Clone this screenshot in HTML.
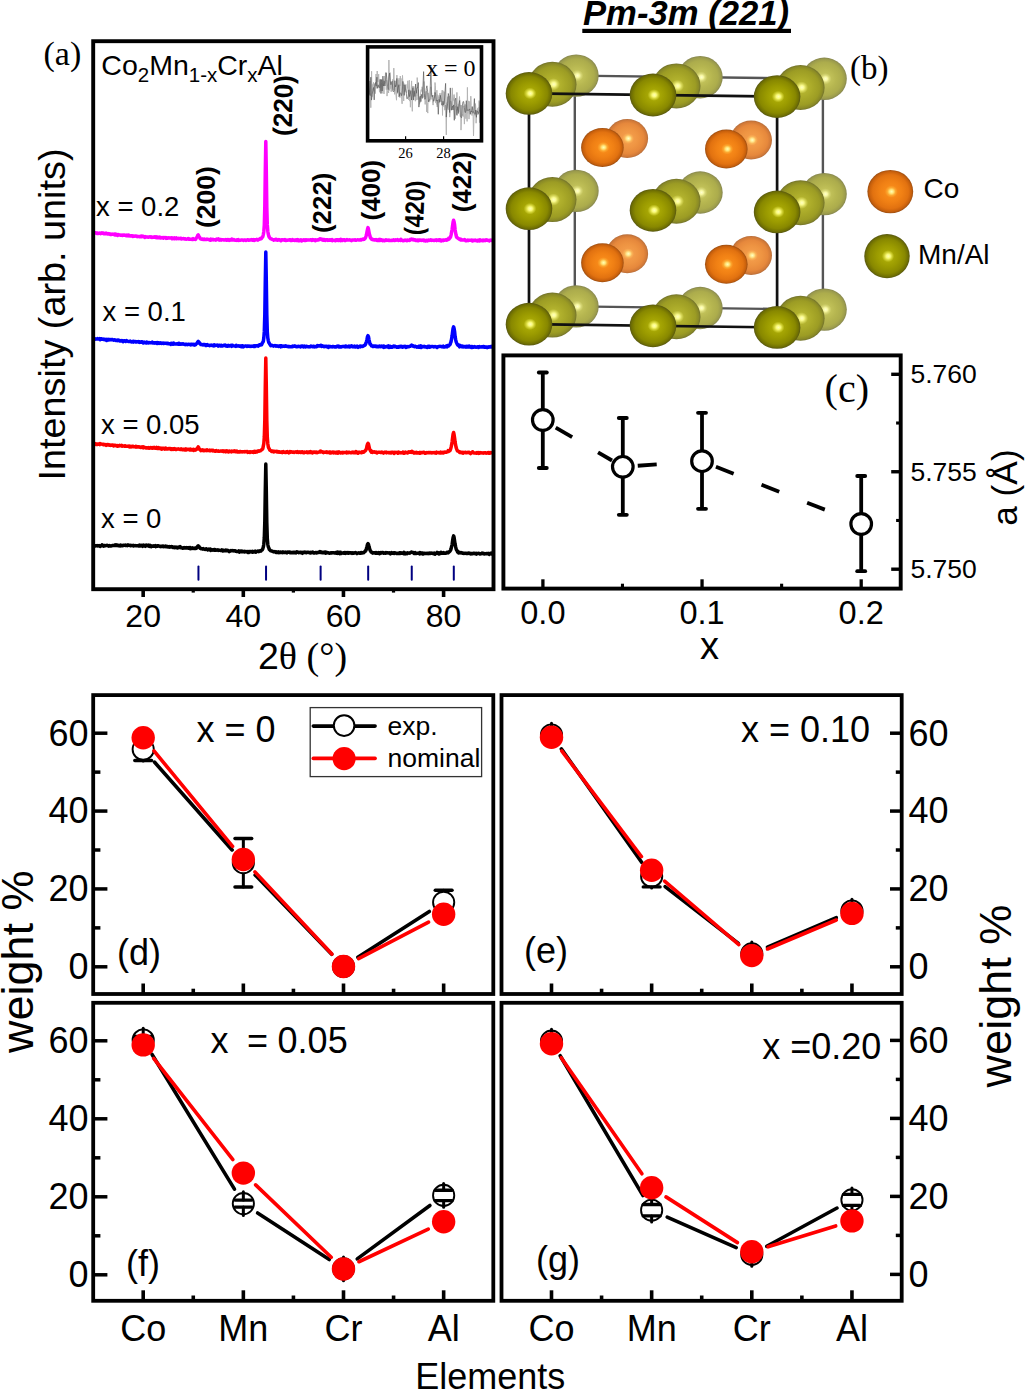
<!DOCTYPE html>
<html><head><meta charset="utf-8"><title>Figure</title>
<style>html,body{margin:0;padding:0;background:#fff;overflow:hidden;}svg{display:block;}</style></head>
<body><svg width="1025" height="1389" viewBox="0 0 1025 1389">
<rect width="1025" height="1389" fill="#fff"/>
<defs>
<radialGradient id="olF" cx="50%" cy="50%" r="50%" fx="53%" fy="50%">
<stop offset="0" stop-color="#ffffb8"/><stop offset="0.09" stop-color="#fafa7c"/><stop offset="0.17" stop-color="#d4d438"/><stop offset="0.27" stop-color="#a6a604"/>
<stop offset="0.5" stop-color="#9a9a00"/><stop offset="0.78" stop-color="#888800"/><stop offset="0.92" stop-color="#707002"/><stop offset="1" stop-color="#585812"/></radialGradient>
<radialGradient id="olM" cx="50%" cy="50%" r="50%" fx="53%" fy="50%">
<stop offset="0" stop-color="#ffffc4"/><stop offset="0.09" stop-color="#fafa90"/><stop offset="0.17" stop-color="#d8d85a"/><stop offset="0.27" stop-color="#b2b22e"/>
<stop offset="0.5" stop-color="#a8a828"/><stop offset="0.78" stop-color="#9c9c24"/><stop offset="0.92" stop-color="#8a8a26"/><stop offset="1" stop-color="#72722c"/></radialGradient>
<radialGradient id="olB" cx="50%" cy="50%" r="50%" fx="53%" fy="50%">
<stop offset="0" stop-color="#ffffd0"/><stop offset="0.09" stop-color="#f8f8a4"/><stop offset="0.17" stop-color="#d8d878"/><stop offset="0.27" stop-color="#c0c058"/>
<stop offset="0.5" stop-color="#b6b650"/><stop offset="0.78" stop-color="#acac4c"/><stop offset="0.92" stop-color="#9c9c4c"/><stop offset="1" stop-color="#868650"/></radialGradient>
<radialGradient id="orF" cx="50%" cy="50%" r="50%" fx="53%" fy="50%">
<stop offset="0" stop-color="#ffffb8"/><stop offset="0.09" stop-color="#ffe478"/><stop offset="0.18" stop-color="#fca830"/><stop offset="0.28" stop-color="#f68818"/>
<stop offset="0.5" stop-color="#f08014"/><stop offset="0.78" stop-color="#e27210"/><stop offset="0.92" stop-color="#c8600c"/><stop offset="1" stop-color="#9c4e12"/></radialGradient>
<radialGradient id="orB" cx="50%" cy="50%" r="50%" fx="53%" fy="50%">
<stop offset="0" stop-color="#ffffc8"/><stop offset="0.09" stop-color="#ffe88e"/><stop offset="0.18" stop-color="#fab458"/><stop offset="0.28" stop-color="#f29a48"/>
<stop offset="0.5" stop-color="#ee9442"/><stop offset="0.78" stop-color="#e6883c"/><stop offset="0.92" stop-color="#d27a38"/><stop offset="1" stop-color="#b66e3c"/></radialGradient>
</defs>
<polyline points="93.1,233.0 93.6,233.1 94.1,232.9 94.6,232.8 95.1,232.9 95.6,232.8 96.1,233.1 96.6,233.5 97.1,233.0 97.6,233.0 98.1,233.4 98.6,233.4 99.1,233.3 99.6,233.0 100.1,233.4 100.6,233.6 101.1,233.0 101.6,233.3 102.1,232.9 102.6,233.2 103.1,233.0 103.6,233.6 104.1,233.3 104.6,233.8 105.1,233.8 105.6,233.7 106.1,233.1 106.6,233.7 107.1,233.9 107.6,234.0 108.1,233.5 108.6,233.9 109.1,233.8 109.6,233.9 110.1,234.5 110.6,234.0 111.1,234.2 111.6,234.5 112.1,234.1 112.6,234.3 113.1,234.4 113.6,234.5 114.1,234.1 114.6,234.5 115.1,235.0 115.6,234.1 116.1,234.9 116.6,234.7 117.1,234.5 117.6,235.4 118.1,235.0 118.6,234.5 119.1,234.9 119.6,235.1 120.1,234.9 120.6,235.2 121.1,235.0 121.6,235.3 122.1,235.5 122.6,235.0 123.1,235.3 123.6,235.1 124.1,235.3 124.6,235.0 125.1,235.2 125.6,235.3 126.1,235.7 126.6,235.8 127.1,235.1 127.6,235.3 128.1,235.8 128.6,235.0 129.2,235.5 129.7,235.7 130.2,236.1 130.7,236.0 131.2,235.7 131.7,235.8 132.2,235.8 132.7,236.4 133.2,235.9 133.7,235.9 134.2,236.2 134.7,236.1 135.2,236.1 135.7,235.9 136.2,236.2 136.7,236.1 137.2,236.7 137.7,236.5 138.2,236.4 138.7,236.6 139.2,236.4 139.7,236.8 140.2,236.5 140.7,236.7 141.2,236.2 141.7,236.7 142.2,236.2 142.7,236.1 143.2,236.6 143.7,236.5 144.2,236.8 144.7,237.5 145.2,236.6 145.7,236.7 146.2,237.0 146.7,237.1 147.2,236.9 147.7,236.9 148.2,237.2 148.7,237.2 149.2,236.8 149.7,237.1 150.2,237.1 150.7,236.8 151.2,237.3 151.7,237.0 152.2,237.5 152.7,237.3 153.2,237.3 153.7,237.1 154.2,237.3 154.7,236.8 155.2,237.0 155.7,237.5 156.2,236.8 156.7,237.7 157.2,237.0 157.7,237.7 158.2,237.3 158.7,237.8 159.2,237.6 159.7,237.1 160.2,238.0 160.7,238.1 161.2,237.7 161.7,237.6 162.2,237.7 162.7,237.5 163.2,238.1 163.7,237.6 164.2,237.8 164.7,237.6 165.2,237.7 165.7,237.5 166.2,238.3 166.7,237.9 167.2,238.3 167.7,238.0 168.2,237.8 168.7,237.9 169.2,237.9 169.7,238.1 170.2,238.0 170.7,238.0 171.2,237.8 171.7,237.9 172.2,238.7 172.7,238.0 173.2,237.9 173.7,238.4 174.2,238.7 174.7,237.9 175.2,238.3 175.7,238.2 176.2,237.9 176.7,238.7 177.2,238.4 177.7,238.5 178.2,238.3 178.7,238.7 179.2,238.4 179.7,238.5 180.2,238.3 180.7,238.3 181.2,239.0 181.7,238.5 182.2,238.8 182.7,238.7 183.2,238.6 183.7,238.6 184.2,239.0 184.7,238.7 185.2,238.8 185.7,238.9 186.2,239.2 186.7,239.1 187.2,239.0 187.7,238.8 188.2,238.5 188.7,239.3 189.2,239.3 189.7,239.0 190.2,239.2 190.7,239.3 191.2,239.3 191.7,239.4 192.2,239.0 192.7,239.5 193.2,238.7 193.7,239.3 194.2,239.2 194.7,239.3 195.2,239.5 195.7,239.2 196.2,238.1 196.7,237.4 197.2,237.1 197.7,235.3 198.2,234.9 198.7,235.9 199.2,236.5 199.7,237.4 200.2,238.7 200.8,239.0 201.3,239.1 201.8,239.2 202.3,239.0 202.8,238.9 203.3,239.4 203.8,239.1 204.3,239.0 204.8,239.6 205.3,239.5 205.8,239.6 206.3,239.2 206.8,239.4 207.3,239.3 207.8,239.3 208.3,239.6 208.8,239.4 209.3,239.7 209.8,239.7 210.3,240.2 210.8,239.2 211.3,239.9 211.8,239.6 212.3,239.7 212.8,239.2 213.3,239.5 213.8,239.9 214.3,239.7 214.8,239.7 215.3,239.6 215.8,240.1 216.3,239.7 216.8,239.1 217.3,239.5 217.8,239.2 218.3,238.8 218.8,239.6 219.3,240.2 219.8,239.8 220.3,239.4 220.8,239.5 221.3,240.1 221.8,239.8 222.3,239.8 222.8,239.8 223.3,239.8 223.8,240.1 224.3,240.0 224.8,239.9 225.3,239.5 225.8,240.0 226.3,239.7 226.8,240.2 227.3,239.5 227.8,239.8 228.3,239.9 228.8,239.5 229.3,240.4 229.8,240.3 230.3,239.8 230.8,240.1 231.3,240.0 231.8,239.1 232.3,240.0 232.8,239.9 233.3,240.0 233.8,239.6 234.3,239.9 234.8,239.9 235.3,240.3 235.8,240.1 236.3,240.0 236.8,240.4 237.3,239.8 237.8,239.9 238.3,239.5 238.8,240.5 239.3,240.3 239.8,240.3 240.3,240.2 240.8,240.1 241.3,240.1 241.8,240.0 242.3,240.0 242.8,240.1 243.3,240.5 243.8,240.2 244.3,240.0 244.8,239.9 245.3,239.9 245.8,240.5 246.3,240.2 246.8,240.1 247.3,239.9 247.8,239.7 248.3,240.0 248.8,240.3 249.3,239.9 249.8,240.0 250.3,240.0 250.8,240.0 251.3,239.5 251.8,239.9 252.3,239.7 252.8,240.2 253.3,239.7 253.8,240.1 254.3,240.4 254.8,239.8 255.3,239.7 255.8,239.9 256.3,239.8 256.8,239.4 257.3,239.8 257.8,240.2 258.3,239.4 258.8,239.4 259.3,239.0 259.8,239.2 260.3,238.6 260.8,238.3 261.3,238.7 261.8,237.6 262.3,237.5 262.8,236.6 263.3,234.6 263.8,231.7 264.3,225.2 264.8,206.8 265.3,170.7 265.8,141.5 266.3,170.9 266.8,207.3 267.3,224.9 267.8,231.2 268.3,234.2 268.8,236.0 269.3,237.3 269.8,237.8 270.3,238.4 270.8,238.8 271.3,238.8 271.8,239.1 272.4,239.4 272.9,239.4 273.4,239.7 273.9,240.2 274.4,239.8 274.9,239.7 275.4,239.3 275.9,239.9 276.4,239.3 276.9,239.5 277.4,240.2 277.9,240.1 278.4,239.9 278.9,239.5 279.4,239.9 279.9,239.8 280.4,240.2 280.9,240.7 281.4,240.1 281.9,239.8 282.4,239.7 282.9,240.0 283.4,240.0 283.9,239.7 284.4,240.1 284.9,239.7 285.4,240.4 285.9,240.4 286.4,240.4 286.9,240.0 287.4,240.3 287.9,240.1 288.4,240.0 288.9,240.0 289.4,239.7 289.9,239.7 290.4,240.4 290.9,240.1 291.4,240.2 291.9,240.4 292.4,239.6 292.9,239.9 293.4,240.2 293.9,240.3 294.4,240.0 294.9,240.5 295.4,240.2 295.9,239.8 296.4,239.9 296.9,240.4 297.4,240.3 297.9,239.6 298.4,240.6 298.9,240.3 299.4,240.6 299.9,240.0 300.4,240.1 300.9,239.8 301.4,240.9 301.9,240.1 302.4,240.6 302.9,240.0 303.4,240.2 303.9,239.7 304.4,240.0 304.9,240.5 305.4,239.8 305.9,240.5 306.4,240.3 306.9,239.8 307.4,240.0 307.9,240.0 308.4,240.1 308.9,240.0 309.4,239.9 309.9,240.1 310.4,239.8 310.9,239.8 311.4,240.1 311.9,240.4 312.4,239.7 312.9,240.1 313.4,239.9 313.9,239.8 314.4,240.4 314.9,240.0 315.4,240.6 315.9,239.9 316.4,240.2 316.9,240.0 317.4,239.8 317.9,240.1 318.4,239.7 318.9,239.8 319.4,239.3 319.9,238.8 320.4,238.9 320.9,239.1 321.4,239.6 321.9,239.3 322.4,239.8 322.9,239.4 323.4,240.2 323.9,239.7 324.4,239.5 324.9,240.1 325.4,240.4 325.9,239.7 326.4,239.8 326.9,239.9 327.4,239.8 327.9,240.3 328.4,239.9 328.9,239.9 329.4,240.3 329.9,239.9 330.4,240.3 330.9,239.9 331.4,239.8 331.9,239.6 332.4,240.7 332.9,240.1 333.4,240.2 333.9,240.2 334.4,240.2 334.9,240.2 335.4,240.7 335.9,239.9 336.4,239.7 336.9,239.9 337.4,239.8 337.9,240.4 338.4,240.4 338.9,239.9 339.4,239.7 339.9,240.1 340.4,240.6 340.9,239.3 341.4,240.3 341.9,239.8 342.4,240.5 342.9,239.8 343.4,240.1 344.0,239.7 344.5,239.9 345.0,240.6 345.5,240.4 346.0,240.0 346.5,239.9 347.0,239.6 347.5,240.0 348.0,240.1 348.5,240.1 349.0,240.1 349.5,239.8 350.0,240.1 350.5,240.1 351.0,240.5 351.5,240.7 352.0,240.1 352.5,239.9 353.0,240.1 353.5,239.9 354.0,239.9 354.5,240.1 355.0,239.8 355.5,240.3 356.0,240.1 356.5,240.2 357.0,240.0 357.5,239.8 358.0,239.8 358.5,240.0 359.0,239.9 359.5,240.1 360.0,240.0 360.5,239.5 361.0,239.9 361.5,239.4 362.0,239.6 362.5,239.6 363.0,239.0 363.5,239.5 364.0,239.3 364.5,238.9 365.0,238.4 365.5,237.7 366.0,236.2 366.5,234.5 367.0,231.8 367.5,229.3 368.0,227.6 368.5,229.3 369.0,232.0 369.5,234.5 370.0,236.4 370.5,237.9 371.0,238.1 371.5,239.1 372.0,239.4 372.5,239.6 373.0,239.7 373.5,239.5 374.0,239.7 374.5,240.1 375.0,240.0 375.5,240.0 376.0,239.5 376.5,240.2 377.0,240.4 377.5,240.4 378.0,240.2 378.5,239.6 379.0,240.4 379.5,240.1 380.0,239.4 380.5,240.3 381.0,239.7 381.5,239.8 382.0,240.0 382.5,240.6 383.0,240.1 383.5,240.3 384.0,240.7 384.5,240.7 385.0,240.2 385.5,240.1 386.0,239.8 386.5,240.0 387.0,240.4 387.5,240.3 388.0,240.3 388.5,240.5 389.0,240.0 389.5,240.2 390.0,240.5 390.5,240.4 391.0,240.6 391.5,240.4 392.0,240.2 392.5,240.4 393.0,240.0 393.5,239.8 394.0,240.4 394.5,240.2 395.0,240.4 395.5,239.8 396.0,240.2 396.5,240.1 397.0,240.0 397.5,239.6 398.0,240.2 398.5,240.5 399.0,240.4 399.5,240.1 400.0,240.3 400.5,240.5 401.0,239.4 401.5,240.2 402.0,240.4 402.5,240.5 403.0,240.8 403.5,240.6 404.0,240.4 404.5,240.3 405.0,240.5 405.5,240.1 406.0,240.2 406.5,240.5 407.0,240.8 407.5,240.1 408.0,240.1 408.5,240.2 409.0,240.4 409.5,239.9 410.0,240.1 410.5,239.2 411.0,239.2 411.5,239.0 412.0,239.5 412.5,239.8 413.0,239.3 413.5,239.6 414.0,240.1 414.5,239.9 415.1,239.7 415.6,240.5 416.1,240.4 416.6,240.4 417.1,240.1 417.6,240.6 418.1,240.2 418.6,240.6 419.1,240.0 419.6,240.0 420.1,240.3 420.6,240.1 421.1,240.5 421.6,240.4 422.1,240.0 422.6,240.3 423.1,240.2 423.6,240.6 424.1,240.1 424.6,240.2 425.1,240.7 425.6,241.0 426.1,240.9 426.6,240.3 427.1,240.4 427.6,240.8 428.1,240.3 428.6,240.0 429.1,240.3 429.6,240.4 430.1,240.0 430.6,239.8 431.1,239.9 431.6,240.5 432.1,240.1 432.6,240.2 433.1,240.3 433.6,240.5 434.1,240.2 434.6,240.4 435.1,240.0 435.6,240.2 436.1,239.9 436.6,240.6 437.1,240.2 437.6,240.0 438.1,240.1 438.6,240.1 439.1,240.4 439.6,239.7 440.1,239.9 440.6,240.1 441.1,240.9 441.6,240.4 442.1,240.1 442.6,240.3 443.1,240.7 443.6,240.0 444.1,239.9 444.6,240.3 445.1,240.0 445.6,240.0 446.1,239.6 446.6,240.2 447.1,240.1 447.6,239.6 448.1,239.5 448.6,238.4 449.1,238.9 449.6,238.2 450.1,237.7 450.6,236.8 451.1,234.9 451.6,232.1 452.1,229.5 452.6,225.4 453.1,222.0 453.6,220.3 454.1,222.0 454.6,224.9 455.1,229.8 455.6,232.7 456.1,235.3 456.6,237.2 457.1,237.6 457.6,237.8 458.1,238.5 458.6,238.7 459.1,239.1 459.6,239.5 460.1,239.0 460.6,239.8 461.1,239.3 461.6,240.0 462.1,239.9 462.6,239.9 463.1,240.0 463.6,239.9 464.1,239.9 464.6,239.6 465.1,240.1 465.6,240.7 466.1,240.8 466.6,240.6 467.1,240.5 467.6,240.1 468.1,240.7 468.6,240.3 469.1,240.3 469.6,240.2 470.1,240.3 470.6,240.2 471.1,240.3 471.6,240.0 472.1,240.2 472.6,241.0 473.1,240.3 473.6,240.3 474.1,240.5 474.6,240.6 475.1,240.0 475.6,240.3 476.1,240.7 476.6,240.5 477.1,240.4 477.6,240.9 478.1,240.2 478.6,240.4 479.1,240.3 479.6,240.9 480.1,239.8 480.6,240.2 481.1,240.3 481.6,240.6 482.1,240.6 482.6,240.8 483.1,240.0 483.6,240.7 484.1,240.3 484.6,240.2 485.1,240.6 485.6,240.2 486.1,239.8 486.7,240.3 487.2,240.0 487.7,240.3 488.2,240.6 488.7,240.5 489.2,240.9 489.7,240.4 490.2,240.0 490.7,240.2 491.2,240.2 491.7,240.1 492.2,240.6 492.7,240.3 493.2,239.9 493.7,240.7" fill="none" stroke="#ff00ff" stroke-width="3.5" stroke-linejoin="round"/>
<polyline points="93.1,338.7 93.6,338.9 94.1,338.8 94.6,339.0 95.1,338.8 95.6,339.2 96.1,339.0 96.6,339.0 97.1,339.1 97.6,338.5 98.1,338.9 98.6,338.9 99.1,339.1 99.6,338.7 100.1,339.6 100.6,339.2 101.1,338.8 101.6,338.7 102.1,339.2 102.6,339.3 103.1,339.1 103.6,339.4 104.1,339.2 104.6,339.6 105.1,339.3 105.6,339.5 106.1,339.9 106.6,340.4 107.1,339.3 107.6,339.5 108.1,339.5 108.6,340.0 109.1,339.4 109.6,339.7 110.1,339.8 110.6,339.6 111.1,339.6 111.6,339.8 112.1,339.4 112.6,339.6 113.1,340.0 113.6,340.2 114.1,340.1 114.6,339.7 115.1,340.1 115.6,340.5 116.1,340.5 116.6,340.3 117.1,340.1 117.6,340.6 118.1,340.3 118.6,340.1 119.1,340.3 119.6,341.0 120.1,340.7 120.6,341.0 121.1,340.5 121.6,341.0 122.1,340.6 122.6,340.7 123.1,341.6 123.6,341.1 124.1,340.7 124.6,340.9 125.1,341.1 125.6,341.4 126.1,340.9 126.6,340.6 127.1,341.0 127.6,341.2 128.1,341.2 128.6,341.6 129.2,341.4 129.7,341.5 130.2,341.0 130.7,341.6 131.2,342.0 131.7,341.7 132.2,341.6 132.7,341.6 133.2,342.1 133.7,341.3 134.2,341.6 134.7,341.8 135.2,341.9 135.7,341.6 136.2,341.9 136.7,341.7 137.2,341.9 137.7,341.8 138.2,341.6 138.7,341.9 139.2,342.3 139.7,341.7 140.2,342.0 140.7,342.3 141.2,341.8 141.7,342.2 142.2,341.9 142.7,342.6 143.2,342.9 143.7,342.9 144.2,342.2 144.7,342.6 145.2,342.4 145.7,342.4 146.2,342.9 146.7,342.0 147.2,342.8 147.7,342.5 148.2,342.9 148.7,342.6 149.2,342.4 149.7,342.7 150.2,342.8 150.7,342.7 151.2,342.8 151.7,342.5 152.2,342.1 152.7,343.0 153.2,343.0 153.7,342.8 154.2,342.8 154.7,343.1 155.2,342.7 155.7,342.7 156.2,342.9 156.7,343.3 157.2,342.5 157.7,343.3 158.2,342.8 158.7,342.7 159.2,343.4 159.7,343.0 160.2,342.7 160.7,343.0 161.2,343.4 161.7,343.5 162.2,343.1 162.7,343.3 163.2,343.5 163.7,343.1 164.2,343.4 164.7,343.3 165.2,343.2 165.7,343.2 166.2,343.4 166.7,343.4 167.2,343.3 167.7,343.3 168.2,343.8 168.7,343.6 169.2,343.8 169.7,343.9 170.2,343.7 170.7,344.3 171.2,343.4 171.7,343.9 172.2,343.6 172.7,344.2 173.2,344.2 173.7,343.1 174.2,343.5 174.7,344.0 175.2,344.0 175.7,344.0 176.2,343.8 176.7,344.0 177.2,344.1 177.7,343.9 178.2,344.2 178.7,343.3 179.2,344.2 179.7,343.7 180.2,344.3 180.7,344.0 181.2,343.8 181.7,344.2 182.2,343.9 182.7,343.9 183.2,343.7 183.7,344.2 184.2,344.4 184.7,344.5 185.2,344.2 185.7,344.6 186.2,344.3 186.7,344.3 187.2,344.5 187.7,344.7 188.2,344.3 188.7,344.3 189.2,344.4 189.7,344.5 190.2,344.2 190.7,344.8 191.2,344.4 191.7,344.7 192.2,344.3 192.7,344.6 193.2,344.7 193.7,344.4 194.2,345.1 194.7,344.6 195.2,345.0 195.7,344.6 196.2,343.9 196.7,343.5 197.2,343.0 197.7,341.9 198.2,341.4 198.7,341.8 199.2,342.4 199.7,343.7 200.2,343.6 200.8,344.6 201.3,344.5 201.8,344.5 202.3,344.8 202.8,345.0 203.3,344.5 203.8,344.4 204.3,344.7 204.8,344.4 205.3,344.7 205.8,345.5 206.3,344.8 206.8,345.3 207.3,344.7 207.8,345.2 208.3,345.1 208.8,345.2 209.3,345.4 209.8,345.7 210.3,345.3 210.8,345.3 211.3,345.0 211.8,345.4 212.3,345.2 212.8,345.6 213.3,345.3 213.8,345.9 214.3,344.8 214.8,345.3 215.3,345.6 215.8,345.3 216.3,345.2 216.8,345.3 217.3,345.0 217.8,345.5 218.3,346.2 218.8,345.8 219.3,345.2 219.8,345.3 220.3,345.4 220.8,345.9 221.3,345.3 221.8,345.4 222.3,345.9 222.8,345.9 223.3,345.5 223.8,345.3 224.3,345.2 224.8,345.5 225.3,345.0 225.8,345.9 226.3,345.5 226.8,345.9 227.3,346.3 227.8,346.1 228.3,345.4 228.8,346.0 229.3,346.1 229.8,345.6 230.3,345.5 230.8,345.8 231.3,345.4 231.8,346.3 232.3,345.2 232.8,345.6 233.3,345.8 233.8,345.9 234.3,346.0 234.8,346.0 235.3,345.9 235.8,346.3 236.3,345.4 236.8,346.0 237.3,345.8 237.8,346.1 238.3,346.1 238.8,345.8 239.3,345.9 239.8,346.3 240.3,346.2 240.8,345.9 241.3,346.7 241.8,346.8 242.3,345.7 242.8,346.2 243.3,346.9 243.8,346.4 244.3,346.2 244.8,346.1 245.3,346.0 245.8,346.1 246.3,346.0 246.8,346.4 247.3,346.1 247.8,346.1 248.3,345.9 248.8,346.2 249.3,346.0 249.8,346.2 250.3,346.5 250.8,346.3 251.3,346.4 251.8,346.3 252.3,346.2 252.8,346.1 253.3,346.1 253.8,346.4 254.3,345.8 254.8,346.5 255.3,346.1 255.8,345.8 256.3,345.9 256.8,345.8 257.3,346.0 257.8,345.6 258.3,346.1 258.8,345.4 259.3,344.9 259.8,345.2 260.3,344.6 260.8,345.0 261.3,344.9 261.8,344.4 262.3,343.1 262.8,342.3 263.3,341.5 263.8,338.1 264.3,331.4 264.8,314.6 265.3,280.4 265.8,252.1 266.3,279.7 266.8,314.4 267.3,331.6 267.8,337.9 268.3,340.6 268.8,342.6 269.3,343.2 269.8,344.2 270.3,344.7 270.8,345.7 271.3,345.0 271.8,345.4 272.4,345.5 272.9,345.8 273.4,346.1 273.9,345.7 274.4,345.7 274.9,345.5 275.4,345.8 275.9,346.2 276.4,346.1 276.9,345.8 277.4,346.1 277.9,346.2 278.4,346.4 278.9,346.1 279.4,346.2 279.9,345.7 280.4,345.9 280.9,346.8 281.4,345.7 281.9,346.2 282.4,346.4 282.9,346.2 283.4,346.1 283.9,346.3 284.4,346.4 284.9,346.3 285.4,345.8 285.9,346.3 286.4,346.1 286.9,346.2 287.4,346.5 287.9,346.6 288.4,346.7 288.9,346.3 289.4,346.7 289.9,346.8 290.4,346.8 290.9,346.8 291.4,346.4 291.9,346.4 292.4,346.7 292.9,346.0 293.4,346.5 293.9,346.3 294.4,346.3 294.9,345.9 295.4,346.2 295.9,346.4 296.4,346.7 296.9,346.8 297.4,346.4 297.9,346.4 298.4,346.2 298.9,346.6 299.4,346.4 299.9,346.6 300.4,347.0 300.9,346.5 301.4,346.0 301.9,346.2 302.4,346.0 302.9,346.1 303.4,346.9 303.9,346.5 304.4,346.0 304.9,346.7 305.4,346.9 305.9,346.4 306.4,346.3 306.9,346.4 307.4,346.6 307.9,346.7 308.4,346.8 308.9,346.9 309.4,346.8 309.9,346.9 310.4,346.7 310.9,346.0 311.4,346.4 311.9,346.6 312.4,346.4 312.9,346.8 313.4,346.4 313.9,346.2 314.4,346.9 314.9,346.7 315.4,346.5 315.9,346.7 316.4,346.8 316.9,346.5 317.4,345.6 317.9,346.1 318.4,346.0 318.9,345.7 319.4,345.9 319.9,346.0 320.4,345.4 320.9,345.3 321.4,346.4 321.9,345.9 322.4,345.8 322.9,346.4 323.4,346.5 323.9,346.2 324.4,346.7 324.9,346.3 325.4,346.2 325.9,346.5 326.4,346.7 326.9,346.3 327.4,346.6 327.9,346.5 328.4,347.4 328.9,346.3 329.4,346.9 329.9,346.5 330.4,346.5 330.9,346.8 331.4,346.8 331.9,346.9 332.4,346.6 332.9,346.4 333.4,346.4 333.9,346.7 334.4,346.7 334.9,347.0 335.4,346.7 335.9,346.9 336.4,347.0 336.9,346.6 337.4,346.1 337.9,346.2 338.4,346.1 338.9,347.0 339.4,346.3 339.9,346.9 340.4,346.7 340.9,347.1 341.4,346.9 341.9,346.5 342.4,346.5 342.9,346.6 343.4,346.6 344.0,346.4 344.5,346.6 345.0,347.0 345.5,346.1 346.0,346.6 346.5,346.3 347.0,346.6 347.5,346.8 348.0,346.5 348.5,346.8 349.0,346.1 349.5,346.9 350.0,346.4 350.5,346.7 351.0,346.6 351.5,345.8 352.0,346.3 352.5,346.6 353.0,347.0 353.5,346.6 354.0,346.6 354.5,346.1 355.0,347.0 355.5,347.1 356.0,346.5 356.5,346.4 357.0,346.0 357.5,346.8 358.0,347.3 358.5,346.7 359.0,346.8 359.5,346.6 360.0,346.1 360.5,346.8 361.0,346.0 361.5,346.2 362.0,346.3 362.5,346.5 363.0,346.2 363.5,346.1 364.0,345.6 364.5,345.2 365.0,345.2 365.5,344.3 366.0,343.0 366.5,341.4 367.0,339.4 367.5,336.6 368.0,335.7 368.5,336.7 369.0,339.6 369.5,341.9 370.0,344.0 370.5,344.1 371.0,345.0 371.5,345.9 372.0,345.8 372.5,345.9 373.0,346.6 373.5,346.1 374.0,345.9 374.5,345.9 375.0,346.5 375.5,346.5 376.0,346.0 376.5,346.2 377.0,346.7 377.5,346.7 378.0,346.3 378.5,346.7 379.0,346.7 379.5,346.0 380.0,346.5 380.5,346.7 381.0,346.4 381.5,346.0 382.0,346.5 382.5,346.8 383.0,347.1 383.5,346.0 384.0,347.4 384.5,346.3 385.0,346.9 385.5,347.0 386.0,346.9 386.5,346.7 387.0,346.3 387.5,346.9 388.0,346.5 388.5,345.9 389.0,347.5 389.5,346.9 390.0,347.2 390.5,346.4 391.0,347.1 391.5,347.2 392.0,347.2 392.5,346.7 393.0,346.3 393.5,346.6 394.0,346.0 394.5,346.2 395.0,346.7 395.5,346.4 396.0,346.7 396.5,346.7 397.0,347.3 397.5,347.1 398.0,346.7 398.5,347.1 399.0,346.5 399.5,346.6 400.0,347.0 400.5,346.3 401.0,346.6 401.5,346.3 402.0,346.7 402.5,347.2 403.0,346.5 403.5,346.8 404.0,346.4 404.5,346.4 405.0,346.3 405.5,347.1 406.0,347.4 406.5,346.8 407.0,346.5 407.5,346.9 408.0,346.5 408.5,346.8 409.0,346.6 409.5,346.5 410.0,346.4 410.5,345.9 411.0,345.7 411.5,345.2 412.0,345.7 412.5,345.6 413.0,346.2 413.5,346.1 414.0,346.6 414.5,346.7 415.1,346.2 415.6,346.4 416.1,346.4 416.6,346.9 417.1,347.2 417.6,347.0 418.1,346.6 418.6,347.2 419.1,346.3 419.6,347.2 420.1,346.5 420.6,345.9 421.1,347.5 421.6,347.2 422.1,346.4 422.6,346.8 423.1,346.7 423.6,346.8 424.1,346.3 424.6,346.6 425.1,346.9 425.6,346.8 426.1,347.1 426.6,346.8 427.1,347.5 427.6,346.5 428.1,346.8 428.6,346.2 429.1,346.4 429.6,347.2 430.1,346.5 430.6,346.9 431.1,346.7 431.6,346.4 432.1,346.6 432.6,346.6 433.1,346.6 433.6,347.0 434.1,346.9 434.6,346.6 435.1,346.5 435.6,346.8 436.1,346.7 436.6,347.0 437.1,347.5 437.6,346.9 438.1,346.7 438.6,346.6 439.1,346.4 439.6,346.4 440.1,346.3 440.6,346.5 441.1,346.5 441.6,346.8 442.1,346.5 442.6,346.5 443.1,346.2 443.6,347.0 444.1,346.6 444.6,346.9 445.1,346.6 445.6,346.7 446.1,346.1 446.6,346.3 447.1,346.8 447.6,345.5 448.1,346.1 448.6,346.0 449.1,345.3 449.6,345.0 450.1,344.4 450.6,342.8 451.1,341.5 451.6,338.7 452.1,335.6 452.6,331.7 453.1,328.3 453.6,326.8 454.1,328.5 454.6,331.5 455.1,336.4 455.6,339.4 456.1,341.6 456.6,342.9 457.1,344.0 457.6,344.9 458.1,345.3 458.6,345.0 459.1,346.0 459.6,346.8 460.1,345.5 460.6,346.5 461.1,346.4 461.6,346.3 462.1,346.8 462.6,346.1 463.1,346.6 463.6,347.0 464.1,346.5 464.6,346.5 465.1,346.7 465.6,346.5 466.1,347.2 466.6,346.4 467.1,347.0 467.6,346.3 468.1,347.0 468.6,346.7 469.1,346.0 469.6,346.8 470.1,346.5 470.6,346.7 471.1,347.3 471.6,346.5 472.1,346.5 472.6,347.3 473.1,346.9 473.6,347.3 474.1,347.0 474.6,346.6 475.1,346.8 475.6,347.2 476.1,347.2 476.6,346.9 477.1,346.9 477.6,346.9 478.1,346.7 478.6,347.5 479.1,346.9 479.6,346.6 480.1,346.8 480.6,347.1 481.1,347.1 481.6,346.9 482.1,346.7 482.6,346.9 483.1,346.4 483.6,346.5 484.1,347.2 484.6,346.8 485.1,347.1 485.6,347.3 486.1,347.1 486.7,347.0 487.2,347.6 487.7,347.2 488.2,346.8 488.7,347.2 489.2,347.1 489.7,346.7 490.2,347.0 490.7,346.9 491.2,346.4 491.7,346.9 492.2,346.9 492.7,346.8 493.2,346.5 493.7,346.9" fill="none" stroke="#0000ff" stroke-width="3.5" stroke-linejoin="round"/>
<polyline points="93.1,443.9 93.6,444.0 94.1,443.6 94.6,444.2 95.1,443.6 95.6,444.0 96.1,444.5 96.6,443.9 97.1,444.0 97.6,444.5 98.1,444.1 98.6,444.1 99.1,444.3 99.6,444.6 100.1,443.6 100.6,444.1 101.1,444.1 101.6,444.1 102.1,444.2 102.6,444.2 103.1,444.6 103.6,444.3 104.1,444.6 104.6,444.8 105.1,444.5 105.6,444.8 106.1,445.3 106.6,444.9 107.1,444.6 107.6,444.9 108.1,444.6 108.6,445.0 109.1,445.2 109.6,444.8 110.1,445.0 110.6,445.4 111.1,445.0 111.6,445.2 112.1,444.9 112.6,445.0 113.1,445.1 113.6,446.0 114.1,445.2 114.6,445.2 115.1,445.3 115.6,445.4 116.1,445.7 116.6,445.6 117.1,446.2 117.6,445.7 118.1,446.1 118.6,445.8 119.1,445.9 119.6,445.3 120.1,445.8 120.6,445.8 121.1,445.8 121.6,445.3 122.1,446.2 122.6,445.9 123.1,445.9 123.6,446.0 124.1,446.0 124.6,446.3 125.1,445.8 125.6,445.9 126.1,446.3 126.6,446.3 127.1,446.2 127.6,446.2 128.1,446.1 128.6,446.4 129.2,446.8 129.7,446.2 130.2,447.0 130.7,446.8 131.2,446.5 131.7,446.9 132.2,446.2 132.7,446.2 133.2,446.4 133.7,446.7 134.2,446.7 134.7,446.7 135.2,446.9 135.7,446.3 136.2,447.1 136.7,446.6 137.2,446.9 137.7,447.0 138.2,446.8 138.7,446.7 139.2,446.9 139.7,447.2 140.2,447.4 140.7,447.5 141.2,447.0 141.7,447.1 142.2,447.1 142.7,447.6 143.2,446.8 143.7,447.8 144.2,447.4 144.7,447.3 145.2,447.7 145.7,447.9 146.2,447.7 146.7,448.0 147.2,447.7 147.7,448.1 148.2,448.1 148.7,447.7 149.2,448.2 149.7,447.9 150.2,447.9 150.7,447.6 151.2,447.8 151.7,448.1 152.2,447.5 152.7,448.2 153.2,448.1 153.7,448.1 154.2,447.4 154.7,448.0 155.2,448.3 155.7,447.9 156.2,448.2 156.7,447.4 157.2,448.4 157.7,448.0 158.2,448.5 158.7,447.7 159.2,448.5 159.7,448.2 160.2,448.6 160.7,448.1 161.2,448.2 161.7,449.1 162.2,448.2 162.7,448.2 163.2,448.4 163.7,448.2 164.2,448.9 164.7,449.1 165.2,448.4 165.7,448.1 166.2,449.0 166.7,449.0 167.2,448.9 167.7,449.0 168.2,448.5 168.7,448.7 169.2,448.4 169.7,448.4 170.2,449.1 170.7,448.6 171.2,449.5 171.7,448.9 172.2,448.7 172.7,449.2 173.2,449.5 173.7,449.1 174.2,448.6 174.7,449.1 175.2,449.5 175.7,448.9 176.2,448.9 176.7,449.4 177.2,449.2 177.7,448.9 178.2,449.1 178.7,449.0 179.2,449.3 179.7,449.3 180.2,449.6 180.7,449.5 181.2,448.9 181.7,449.5 182.2,449.7 182.7,449.6 183.2,449.8 183.7,449.3 184.2,449.2 184.7,449.8 185.2,449.2 185.7,448.9 186.2,449.9 186.7,449.4 187.2,449.5 187.7,449.2 188.2,449.3 188.7,449.4 189.2,449.6 189.7,449.9 190.2,449.1 190.7,450.0 191.2,449.4 191.7,449.5 192.2,450.0 192.7,449.8 193.2,449.4 193.7,450.4 194.2,449.6 194.7,449.9 195.2,449.8 195.7,450.1 196.2,449.4 196.7,449.4 197.2,448.2 197.7,448.0 198.2,446.9 198.7,447.6 199.2,449.1 199.7,449.3 200.2,449.7 200.8,450.6 201.3,450.1 201.8,449.9 202.3,450.4 202.8,449.9 203.3,450.6 203.8,450.7 204.3,450.2 204.8,450.2 205.3,450.4 205.8,450.4 206.3,450.1 206.8,450.6 207.3,449.9 207.8,450.4 208.3,450.4 208.8,450.5 209.3,450.7 209.8,450.2 210.3,450.8 210.8,450.6 211.3,450.4 211.8,450.2 212.3,450.3 212.8,450.8 213.3,450.4 213.8,450.8 214.3,451.1 214.8,451.1 215.3,451.3 215.8,450.7 216.3,450.5 216.8,451.1 217.3,451.0 217.8,451.2 218.3,450.9 218.8,451.3 219.3,451.2 219.8,451.2 220.3,451.1 220.8,451.1 221.3,451.1 221.8,451.1 222.3,451.3 222.8,450.9 223.3,451.6 223.8,451.1 224.3,451.4 224.8,451.1 225.3,451.1 225.8,451.8 226.3,451.1 226.8,450.8 227.3,451.0 227.8,451.1 228.3,451.9 228.8,451.3 229.3,451.6 229.8,451.0 230.3,451.4 230.8,451.5 231.3,451.9 231.8,451.2 232.3,451.6 232.8,451.5 233.3,451.1 233.8,451.4 234.3,451.4 234.8,450.8 235.3,451.7 235.8,451.7 236.3,451.4 236.8,451.1 237.3,452.0 237.8,451.7 238.3,451.9 238.8,452.0 239.3,451.5 239.8,451.9 240.3,451.6 240.8,451.6 241.3,451.7 241.8,451.7 242.3,452.0 242.8,451.8 243.3,451.7 243.8,451.7 244.3,451.9 244.8,451.5 245.3,451.6 245.8,451.8 246.3,451.6 246.8,451.8 247.3,451.6 247.8,452.4 248.3,452.2 248.8,452.0 249.3,451.8 249.8,452.5 250.3,451.9 250.8,451.8 251.3,451.9 251.8,451.9 252.3,452.2 252.8,451.8 253.3,452.4 253.8,451.5 254.3,452.0 254.8,451.4 255.3,452.2 255.8,451.6 256.3,451.6 256.8,451.9 257.3,451.9 257.8,451.1 258.3,451.3 258.8,450.9 259.3,451.2 259.8,451.0 260.3,450.8 260.8,450.4 261.3,450.2 261.8,449.6 262.3,449.3 262.8,448.7 263.3,446.1 263.8,443.7 264.3,437.0 264.8,420.3 265.3,385.5 265.8,358.0 266.3,385.5 266.8,420.4 267.3,437.2 267.8,443.7 268.3,446.8 268.8,448.2 269.3,448.8 269.8,450.1 270.3,450.4 270.8,450.6 271.3,451.2 271.8,451.5 272.4,450.9 272.9,451.1 273.4,451.9 273.9,452.0 274.4,451.4 274.9,451.3 275.4,451.5 275.9,451.6 276.4,451.3 276.9,451.9 277.4,451.5 277.9,451.5 278.4,452.2 278.9,451.7 279.4,451.9 279.9,452.2 280.4,452.2 280.9,451.9 281.4,452.0 281.9,451.8 282.4,452.6 282.9,452.2 283.4,451.7 283.9,452.1 284.4,452.3 284.9,452.2 285.4,452.6 285.9,452.5 286.4,451.9 286.9,452.1 287.4,451.7 287.9,452.2 288.4,452.2 288.9,452.9 289.4,452.2 289.9,451.5 290.4,452.0 290.9,452.2 291.4,451.8 291.9,451.9 292.4,452.1 292.9,452.3 293.4,452.1 293.9,451.9 294.4,452.4 294.9,452.0 295.4,452.0 295.9,451.8 296.4,452.0 296.9,452.4 297.4,451.7 297.9,452.2 298.4,452.4 298.9,452.1 299.4,452.3 299.9,451.9 300.4,452.6 300.9,452.6 301.4,452.3 301.9,451.7 302.4,451.9 302.9,452.5 303.4,452.8 303.9,452.3 304.4,452.6 304.9,452.1 305.4,452.2 305.9,452.3 306.4,452.4 306.9,451.8 307.4,452.6 307.9,452.7 308.4,451.9 308.9,451.9 309.4,452.4 309.9,452.1 310.4,451.6 310.9,452.5 311.4,452.3 311.9,452.1 312.4,452.9 312.9,452.3 313.4,452.1 313.9,452.3 314.4,452.0 314.9,452.1 315.4,452.4 315.9,452.1 316.4,452.1 316.9,452.7 317.4,452.4 317.9,452.4 318.4,452.2 318.9,452.0 319.4,452.1 319.9,451.4 320.4,451.9 320.9,451.2 321.4,451.6 321.9,451.5 322.4,451.9 322.9,452.3 323.4,452.7 323.9,452.1 324.4,452.3 324.9,452.2 325.4,452.1 325.9,452.0 326.4,452.4 326.9,451.8 327.4,452.4 327.9,452.4 328.4,452.2 328.9,452.1 329.4,452.0 329.9,453.0 330.4,452.0 330.9,452.9 331.4,452.6 331.9,452.3 332.4,452.1 332.9,452.7 333.4,452.9 333.9,452.1 334.4,452.3 334.9,452.7 335.4,452.5 335.9,453.0 336.4,452.3 336.9,452.6 337.4,452.1 337.9,453.1 338.4,452.2 338.9,451.8 339.4,452.4 339.9,452.4 340.4,453.0 340.9,452.4 341.4,452.5 341.9,452.6 342.4,452.9 342.9,452.4 343.4,452.8 344.0,452.6 344.5,452.4 345.0,452.5 345.5,452.5 346.0,452.2 346.5,452.8 347.0,452.1 347.5,452.8 348.0,452.8 348.5,452.4 349.0,452.2 349.5,452.4 350.0,452.6 350.5,452.7 351.0,452.6 351.5,452.8 352.0,452.3 352.5,452.5 353.0,452.0 353.5,452.7 354.0,452.5 354.5,452.3 355.0,452.8 355.5,452.7 356.0,451.6 356.5,452.4 357.0,452.0 357.5,452.7 358.0,453.2 358.5,452.2 359.0,452.4 359.5,452.3 360.0,452.5 360.5,452.5 361.0,452.7 361.5,452.0 362.0,452.7 362.5,451.9 363.0,452.2 363.5,452.3 364.0,452.0 364.5,451.3 365.0,451.0 365.5,450.5 366.0,449.7 366.5,448.5 367.0,445.8 367.5,444.2 368.0,443.3 368.5,444.2 369.0,446.3 369.5,448.6 370.0,449.8 370.5,450.9 371.0,451.4 371.5,452.2 372.0,451.3 372.5,452.4 373.0,452.0 373.5,452.1 374.0,452.0 374.5,451.7 375.0,452.2 375.5,452.2 376.0,452.5 376.5,452.0 377.0,452.9 377.5,452.5 378.0,452.4 378.5,452.3 379.0,452.3 379.5,452.2 380.0,452.4 380.5,452.5 381.0,452.5 381.5,452.1 382.0,452.5 382.5,452.3 383.0,452.6 383.5,453.1 384.0,452.8 384.5,452.5 385.0,452.1 385.5,452.2 386.0,452.1 386.5,452.8 387.0,452.4 387.5,452.6 388.0,452.4 388.5,452.6 389.0,453.0 389.5,452.4 390.0,452.5 390.5,452.4 391.0,452.9 391.5,452.3 392.0,452.3 392.5,452.2 393.0,452.2 393.5,452.8 394.0,453.4 394.5,452.3 395.0,452.9 395.5,452.7 396.0,452.3 396.5,452.6 397.0,452.6 397.5,452.4 398.0,453.2 398.5,452.1 399.0,452.8 399.5,452.7 400.0,452.5 400.5,452.7 401.0,452.9 401.5,452.7 402.0,452.8 402.5,452.9 403.0,452.0 403.5,453.1 404.0,453.3 404.5,452.9 405.0,452.9 405.5,452.2 406.0,452.6 406.5,452.4 407.0,452.4 407.5,452.9 408.0,452.3 408.5,452.5 409.0,451.9 409.5,452.3 410.0,452.2 410.5,451.8 411.0,451.6 411.5,452.3 412.0,451.4 412.5,451.7 413.0,452.0 413.5,452.7 414.0,453.1 414.5,452.6 415.1,452.4 415.6,452.5 416.1,453.0 416.6,452.4 417.1,453.1 417.6,453.1 418.1,452.7 418.6,452.9 419.1,452.9 419.6,453.2 420.1,452.4 420.6,453.1 421.1,452.6 421.6,452.5 422.1,452.7 422.6,452.6 423.1,452.4 423.6,452.2 424.1,452.4 424.6,453.1 425.1,453.3 425.6,452.9 426.1,453.1 426.6,452.6 427.1,452.7 427.6,452.8 428.1,452.4 428.6,452.4 429.1,452.7 429.6,452.6 430.1,452.4 430.6,452.8 431.1,452.6 431.6,453.0 432.1,452.7 432.6,452.6 433.1,452.7 433.6,452.6 434.1,452.5 434.6,452.6 435.1,452.9 435.6,452.9 436.1,453.1 436.6,452.2 437.1,452.5 437.6,452.5 438.1,452.7 438.6,452.5 439.1,452.5 439.6,452.9 440.1,452.7 440.6,452.2 441.1,453.0 441.6,452.9 442.1,452.4 442.6,452.8 443.1,452.3 443.6,452.8 444.1,452.4 444.6,452.1 445.1,452.2 445.6,452.0 446.1,452.2 446.6,452.2 447.1,452.0 447.6,451.7 448.1,450.6 448.6,451.5 449.1,450.6 449.6,450.8 450.1,450.4 450.6,449.1 451.1,447.2 451.6,444.9 452.1,441.7 452.6,437.7 453.1,434.1 453.6,432.5 454.1,434.7 454.6,437.9 455.1,442.1 455.6,444.9 456.1,447.4 456.6,448.9 457.1,450.2 457.6,451.0 458.1,451.2 458.6,451.3 459.1,451.5 459.6,452.4 460.1,451.9 460.6,452.1 461.1,452.7 461.6,452.6 462.1,452.5 462.6,452.3 463.1,453.2 463.6,452.6 464.1,452.7 464.6,452.5 465.1,452.2 465.6,452.2 466.1,452.8 466.6,452.8 467.1,452.6 467.6,452.4 468.1,452.3 468.6,452.6 469.1,452.3 469.6,453.0 470.1,453.1 470.6,453.6 471.1,453.1 471.6,452.6 472.1,452.6 472.6,451.8 473.1,452.7 473.6,452.8 474.1,453.1 474.6,453.0 475.1,453.0 475.6,452.9 476.1,453.1 476.6,453.3 477.1,452.6 477.6,452.7 478.1,452.5 478.6,453.4 479.1,453.3 479.6,453.1 480.1,452.5 480.6,453.0 481.1,452.8 481.6,452.9 482.1,452.9 482.6,453.1 483.1,452.8 483.6,453.2 484.1,453.0 484.6,452.8 485.1,452.9 485.6,452.8 486.1,453.2 486.7,452.9 487.2,453.0 487.7,452.8 488.2,452.5 488.7,453.2 489.2,452.6 489.7,453.2 490.2,453.1 490.7,452.5 491.2,452.7 491.7,452.8 492.2,452.7 492.7,452.6 493.2,453.2 493.7,452.9" fill="none" stroke="#ff0000" stroke-width="3.5" stroke-linejoin="round"/>
<polyline points="93.1,546.0 93.6,545.7 94.1,545.9 94.6,545.6 95.1,545.8 95.6,546.0 96.1,545.8 96.6,545.7 97.1,545.5 97.6,545.9 98.1,545.9 98.6,545.7 99.1,545.5 99.6,545.9 100.1,546.5 100.6,545.7 101.1,545.8 101.6,545.8 102.1,544.9 102.6,545.7 103.1,545.5 103.6,546.1 104.1,545.6 104.6,545.4 105.1,545.6 105.6,545.7 106.1,545.5 106.6,545.6 107.1,545.2 107.6,545.5 108.1,545.8 108.6,546.2 109.1,545.8 109.6,545.6 110.1,545.9 110.6,545.9 111.1,546.0 111.6,545.9 112.1,545.5 112.6,545.6 113.1,545.6 113.6,545.6 114.1,545.6 114.6,545.2 115.1,544.8 115.6,545.3 116.1,544.9 116.6,545.5 117.1,545.5 117.6,545.0 118.1,545.7 118.6,545.7 119.1,545.5 119.6,545.9 120.1,546.0 120.6,545.1 121.1,545.8 121.6,545.6 122.1,545.6 122.6,545.7 123.1,545.2 123.6,545.3 124.1,545.2 124.6,545.2 125.1,545.4 125.6,545.0 126.1,545.1 126.6,545.6 127.1,545.4 127.6,545.6 128.1,544.9 128.6,545.2 129.2,545.3 129.7,545.5 130.2,545.3 130.7,545.8 131.2,545.5 131.7,545.5 132.2,545.5 132.7,545.7 133.2,545.4 133.7,545.9 134.2,545.7 134.7,545.6 135.2,545.5 135.7,545.7 136.2,545.8 136.7,545.8 137.2,545.7 137.7,545.8 138.2,545.6 138.7,545.9 139.2,545.6 139.7,545.0 140.2,546.0 140.7,545.6 141.2,545.3 141.7,545.6 142.2,545.4 142.7,546.3 143.2,545.8 143.7,545.2 144.2,545.8 144.7,545.6 145.2,546.3 145.7,545.4 146.2,545.1 146.7,545.8 147.2,545.7 147.7,545.7 148.2,545.2 148.7,545.9 149.2,546.3 149.7,545.3 150.2,546.2 150.7,545.7 151.2,546.6 151.7,546.1 152.2,545.9 152.7,546.3 153.2,546.2 153.7,545.8 154.2,546.2 154.7,545.9 155.2,545.5 155.7,546.7 156.2,546.0 156.7,546.0 157.2,546.3 157.7,545.7 158.2,545.8 158.7,546.1 159.2,546.1 159.7,546.3 160.2,546.6 160.7,546.2 161.2,546.5 161.7,546.5 162.2,546.0 162.7,546.4 163.2,546.1 163.7,546.7 164.2,546.6 164.7,546.5 165.2,546.1 165.7,546.6 166.2,546.3 166.7,546.8 167.2,546.6 167.7,546.4 168.2,546.9 168.7,546.9 169.2,546.5 169.7,547.1 170.2,546.7 170.7,546.7 171.2,546.9 171.7,546.6 172.2,546.8 172.7,546.9 173.2,547.4 173.7,547.4 174.2,547.0 174.7,547.6 175.2,547.1 175.7,547.3 176.2,547.4 176.7,547.3 177.2,548.0 177.7,547.4 178.2,547.0 178.7,547.7 179.2,547.3 179.7,547.3 180.2,546.6 180.7,547.8 181.2,547.8 181.7,547.8 182.2,547.9 182.7,548.2 183.2,547.7 183.7,548.0 184.2,547.5 184.7,547.7 185.2,548.1 185.7,548.0 186.2,547.5 186.7,548.0 187.2,547.9 187.7,547.8 188.2,548.2 188.7,547.9 189.2,547.6 189.7,547.8 190.2,548.7 190.7,547.7 191.2,548.3 191.7,548.4 192.2,548.5 192.7,547.9 193.2,548.2 193.7,548.4 194.2,548.6 194.7,548.1 195.2,548.0 195.7,548.5 196.2,548.4 196.7,547.8 197.2,546.9 197.7,546.3 198.2,545.8 198.7,546.5 199.2,546.8 199.7,547.9 200.2,548.3 200.8,548.2 201.3,548.8 201.8,548.8 202.3,548.8 202.8,549.1 203.3,548.6 203.8,549.0 204.3,549.2 204.8,549.2 205.3,549.5 205.8,548.9 206.3,548.8 206.8,549.4 207.3,549.5 207.8,550.0 208.3,549.6 208.8,549.2 209.3,549.7 209.8,549.3 210.3,549.1 210.8,550.4 211.3,549.7 211.8,549.9 212.3,549.8 212.8,550.2 213.3,549.8 213.8,550.1 214.3,549.5 214.8,549.4 215.3,550.3 215.8,550.3 216.3,550.1 216.8,550.0 217.3,550.0 217.8,549.8 218.3,550.5 218.8,550.3 219.3,550.3 219.8,550.3 220.3,550.5 220.8,550.4 221.3,550.5 221.8,549.9 222.3,550.5 222.8,551.0 223.3,550.2 223.8,550.4 224.3,550.7 224.8,550.8 225.3,550.7 225.8,550.0 226.3,550.7 226.8,550.2 227.3,550.4 227.8,550.8 228.3,550.6 228.8,551.0 229.3,551.7 229.8,551.0 230.3,551.0 230.8,550.6 231.3,550.7 231.8,550.6 232.3,550.8 232.8,550.6 233.3,550.8 233.8,551.0 234.3,550.8 234.8,550.7 235.3,550.7 235.8,551.3 236.3,551.2 236.8,551.5 237.3,551.6 237.8,551.2 238.3,551.5 238.8,550.9 239.3,552.1 239.8,551.8 240.3,551.4 240.8,551.1 241.3,551.6 241.8,551.0 242.3,551.3 242.8,551.8 243.3,551.6 243.8,551.5 244.3,551.9 244.8,551.4 245.3,551.8 245.8,551.6 246.3,551.5 246.8,551.9 247.3,551.5 247.8,552.3 248.3,551.6 248.8,552.4 249.3,551.5 249.8,552.0 250.3,551.5 250.8,551.4 251.3,551.9 251.8,552.0 252.3,551.4 252.8,552.2 253.3,551.6 253.8,551.8 254.3,551.9 254.8,552.0 255.3,551.2 255.8,552.2 256.3,551.9 256.8,551.5 257.3,551.3 257.8,551.1 258.3,551.1 258.8,551.6 259.3,551.2 259.8,550.8 260.3,550.8 260.8,551.2 261.3,550.4 261.8,549.9 262.3,549.8 262.8,548.7 263.3,547.1 263.8,544.2 264.3,537.7 264.8,521.9 265.3,490.0 265.8,464.1 266.3,490.2 266.8,522.5 267.3,538.3 267.8,544.5 268.3,546.8 268.8,547.9 269.3,549.4 269.8,549.8 270.3,550.4 270.8,550.8 271.3,550.7 271.8,551.0 272.4,551.4 272.9,551.6 273.4,551.5 273.9,551.9 274.4,551.7 274.9,551.5 275.4,551.9 275.9,552.5 276.4,551.8 276.9,552.4 277.4,552.5 277.9,552.5 278.4,551.8 278.9,552.7 279.4,552.2 279.9,552.1 280.4,552.1 280.9,552.4 281.4,552.2 281.9,552.2 282.4,552.6 282.9,552.0 283.4,551.9 283.9,552.5 284.4,552.5 284.9,552.6 285.4,552.0 285.9,552.6 286.4,552.5 286.9,552.9 287.4,552.0 287.9,552.4 288.4,552.3 288.9,551.9 289.4,552.1 289.9,552.7 290.4,552.2 290.9,552.2 291.4,552.7 291.9,552.7 292.4,552.7 292.9,552.2 293.4,552.4 293.9,552.7 294.4,552.2 294.9,552.2 295.4,552.7 295.9,552.9 296.4,552.1 296.9,551.7 297.4,552.0 297.9,552.2 298.4,552.4 298.9,552.7 299.4,552.5 299.9,552.3 300.4,552.6 300.9,552.2 301.4,552.5 301.9,552.3 302.4,553.3 302.9,552.8 303.4,552.3 303.9,552.3 304.4,552.4 304.9,552.1 305.4,552.3 305.9,552.3 306.4,552.8 306.9,552.5 307.4,552.3 307.9,552.2 308.4,552.2 308.9,552.6 309.4,552.5 309.9,552.9 310.4,552.4 310.9,552.9 311.4,552.7 311.9,552.6 312.4,552.0 312.9,552.2 313.4,552.9 313.9,553.1 314.4,552.7 314.9,552.9 315.4,552.5 315.9,552.5 316.4,552.4 316.9,552.9 317.4,552.7 317.9,552.4 318.4,552.3 318.9,552.4 319.4,552.1 319.9,551.6 320.4,552.3 320.9,551.9 321.4,552.0 321.9,552.7 322.4,552.7 322.9,552.5 323.4,552.8 323.9,552.3 324.4,552.5 324.9,552.0 325.4,553.1 325.9,552.2 326.4,553.0 326.9,552.5 327.4,552.5 327.9,552.7 328.4,552.9 328.9,553.0 329.4,553.3 329.9,552.9 330.4,553.1 330.9,552.7 331.4,553.1 331.9,552.9 332.4,552.7 332.9,552.8 333.4,552.8 333.9,552.9 334.4,553.0 334.9,552.7 335.4,552.7 335.9,553.1 336.4,552.4 336.9,552.7 337.4,553.4 337.9,552.1 338.4,552.7 338.9,553.1 339.4,552.4 339.9,553.7 340.4,552.2 340.9,553.4 341.4,553.4 341.9,553.2 342.4,552.9 342.9,553.1 343.4,552.7 344.0,553.2 344.5,552.6 345.0,552.9 345.5,553.3 346.0,552.6 346.5,552.9 347.0,553.0 347.5,552.6 348.0,553.3 348.5,553.1 349.0,552.5 349.5,553.0 350.0,552.7 350.5,552.8 351.0,553.0 351.5,552.8 352.0,553.3 352.5,552.8 353.0,553.3 353.5,553.0 354.0,553.2 354.5,552.8 355.0,552.8 355.5,552.6 356.0,553.1 356.5,553.2 357.0,553.6 357.5,553.3 358.0,553.0 358.5,552.8 359.0,553.0 359.5,552.9 360.0,553.3 360.5,553.1 361.0,552.6 361.5,552.6 362.0,553.1 362.5,552.8 363.0,552.5 363.5,552.8 364.0,552.2 364.5,552.0 365.0,551.6 365.5,550.6 366.0,550.4 366.5,548.3 367.0,546.4 367.5,544.3 368.0,543.7 368.5,544.5 369.0,546.6 369.5,548.2 370.0,550.2 370.5,550.7 371.0,551.9 371.5,552.2 372.0,552.4 372.5,553.1 373.0,552.8 373.5,552.9 374.0,552.8 374.5,552.8 375.0,553.1 375.5,553.2 376.0,552.5 376.5,553.3 377.0,553.1 377.5,553.3 378.0,553.1 378.5,552.6 379.0,552.7 379.5,553.6 380.0,553.1 380.5,552.6 381.0,553.2 381.5,553.0 382.0,552.5 382.5,552.4 383.0,552.6 383.5,553.2 384.0,553.1 384.5,553.0 385.0,553.2 385.5,553.3 386.0,552.5 386.5,553.0 387.0,552.9 387.5,552.8 388.0,553.0 388.5,553.1 389.0,553.1 389.5,552.7 390.0,553.0 390.5,553.8 391.0,552.8 391.5,552.6 392.0,553.2 392.5,553.3 393.0,553.3 393.5,552.8 394.0,553.5 394.5,552.9 395.0,552.8 395.5,553.0 396.0,553.1 396.5,553.4 397.0,553.4 397.5,553.2 398.0,553.5 398.5,553.2 399.0,553.5 399.5,552.8 400.0,552.7 400.5,553.4 401.0,552.8 401.5,553.1 402.0,553.2 402.5,553.0 403.0,553.1 403.5,553.6 404.0,552.4 404.5,553.5 405.0,553.9 405.5,553.2 406.0,553.2 406.5,553.4 407.0,553.7 407.5,552.8 408.0,553.1 408.5,553.0 409.0,553.2 409.5,552.9 410.0,552.9 410.5,552.4 411.0,552.3 411.5,552.0 412.0,552.1 412.5,552.5 413.0,552.7 413.5,552.6 414.0,553.5 414.5,553.1 415.1,552.7 415.6,553.5 416.1,553.0 416.6,553.4 417.1,553.2 417.6,553.3 418.1,553.3 418.6,553.1 419.1,553.3 419.6,553.9 420.1,552.6 420.6,553.3 421.1,553.4 421.6,552.9 422.1,552.9 422.6,553.9 423.1,553.2 423.6,553.9 424.1,553.4 424.6,553.3 425.1,553.4 425.6,553.5 426.1,553.6 426.6,553.4 427.1,553.3 427.6,553.3 428.1,553.7 428.6,553.5 429.1,553.0 429.6,553.1 430.1,553.4 430.6,553.1 431.1,553.2 431.6,553.0 432.1,553.2 432.6,553.4 433.1,553.6 433.6,553.3 434.1,553.9 434.6,553.2 435.1,554.2 435.6,553.6 436.1,553.4 436.6,553.1 437.1,552.4 437.6,553.2 438.1,553.3 438.6,553.8 439.1,552.8 439.6,553.8 440.1,553.1 440.6,553.4 441.1,552.4 441.6,553.2 442.1,553.0 442.6,553.3 443.1,553.1 443.6,552.7 444.1,553.3 444.6,553.2 445.1,553.1 445.6,553.2 446.1,553.2 446.6,552.8 447.1,552.3 447.6,552.2 448.1,552.8 448.6,552.4 449.1,552.0 449.6,551.5 450.1,551.0 450.6,550.1 451.1,548.6 451.6,546.5 452.1,544.6 452.6,540.8 453.1,537.5 453.6,535.9 454.1,537.4 454.6,540.9 455.1,544.2 455.6,546.7 456.1,548.8 456.6,550.1 457.1,550.7 457.6,552.0 458.1,552.1 458.6,553.0 459.1,552.2 459.6,552.6 460.1,553.0 460.6,552.8 461.1,552.5 461.6,552.7 462.1,553.1 462.6,553.2 463.1,553.1 463.6,553.5 464.1,553.5 464.6,553.3 465.1,553.2 465.6,553.2 466.1,553.4 466.6,553.6 467.1,553.3 467.6,553.5 468.1,553.2 468.6,552.9 469.1,553.1 469.6,553.6 470.1,553.5 470.6,553.9 471.1,553.4 471.6,553.7 472.1,553.8 472.6,553.7 473.1,553.2 473.6,553.4 474.1,553.5 474.6,553.2 475.1,553.6 475.6,553.8 476.1,553.3 476.6,554.1 477.1,553.4 477.6,553.4 478.1,553.4 478.6,553.3 479.1,553.6 479.6,553.5 480.1,554.0 480.6,553.7 481.1,553.7 481.6,553.4 482.1,553.1 482.6,553.5 483.1,553.3 483.6,553.8 484.1,553.5 484.6,554.0 485.1,553.8 485.6,553.8 486.1,553.6 486.7,553.6 487.2,553.7 487.7,553.8 488.2,553.3 488.7,553.7 489.2,554.3 489.7,553.5 490.2,553.5 490.7,553.4 491.2,553.1 491.7,553.9 492.2,553.6 492.7,553.7 493.2,554.1 493.7,554.3" fill="none" stroke="#000000" stroke-width="3.5" stroke-linejoin="round"/>
<line x1="198.45" y1="566.60" x2="198.45" y2="579.70" stroke="#000080" stroke-width="2.0" stroke-linecap="round"/>
<line x1="266.04" y1="566.60" x2="266.04" y2="579.70" stroke="#000080" stroke-width="2.0" stroke-linecap="round"/>
<line x1="320.62" y1="566.60" x2="320.62" y2="579.70" stroke="#000080" stroke-width="2.0" stroke-linecap="round"/>
<line x1="368.18" y1="566.60" x2="368.18" y2="579.70" stroke="#000080" stroke-width="2.0" stroke-linecap="round"/>
<line x1="411.75" y1="566.60" x2="411.75" y2="579.70" stroke="#000080" stroke-width="2.0" stroke-linecap="round"/>
<line x1="453.80" y1="566.60" x2="453.80" y2="579.70" stroke="#000080" stroke-width="2.0" stroke-linecap="round"/>
<rect x="93.20" y="41.20" width="400.30" height="548.00" stroke="#000" stroke-width="3.9" fill="none"/>
<line x1="143.17" y1="589.20" x2="143.17" y2="597.00" stroke="#000" stroke-width="3.6" stroke-linecap="butt"/>
<line x1="243.31" y1="589.20" x2="243.31" y2="597.00" stroke="#000" stroke-width="3.6" stroke-linecap="butt"/>
<line x1="343.45" y1="589.20" x2="343.45" y2="597.00" stroke="#000" stroke-width="3.6" stroke-linecap="butt"/>
<line x1="443.59" y1="589.20" x2="443.59" y2="597.00" stroke="#000" stroke-width="3.6" stroke-linecap="butt"/>
<line x1="193.24" y1="589.20" x2="193.24" y2="592.60" stroke="#000" stroke-width="3.2" stroke-linecap="butt"/>
<line x1="293.38" y1="589.20" x2="293.38" y2="592.60" stroke="#000" stroke-width="3.2" stroke-linecap="butt"/>
<line x1="393.52" y1="589.20" x2="393.52" y2="592.60" stroke="#000" stroke-width="3.2" stroke-linecap="butt"/>
<text x="143.17" y="626.80" font-size="32" text-anchor="middle" font-family='"Liberation Sans", sans-serif' font-weight="normal" font-style="normal" fill="#000" >20</text>
<text x="243.31" y="626.80" font-size="32" text-anchor="middle" font-family='"Liberation Sans", sans-serif' font-weight="normal" font-style="normal" fill="#000" >40</text>
<text x="343.45" y="626.80" font-size="32" text-anchor="middle" font-family='"Liberation Sans", sans-serif' font-weight="normal" font-style="normal" fill="#000" >60</text>
<text x="443.59" y="626.80" font-size="32" text-anchor="middle" font-family='"Liberation Sans", sans-serif' font-weight="normal" font-style="normal" fill="#000" >80</text>
<text transform="translate(65.3,314.5) rotate(-90)" font-size="36.5" text-anchor="middle" font-family='"Liberation Sans", sans-serif' textLength="332" lengthAdjust="spacingAndGlyphs">Intensity (arb. units)</text>
<text x="258" y="669.2" font-family='"Liberation Sans", sans-serif' font-size="37.5">2<tspan font-family='"Liberation Serif", serif' font-size="38">θ (°)</tspan></text>
<text x="43.50" y="65.20" font-size="34" text-anchor="start" font-family='"Liberation Serif", serif' font-weight="normal" font-style="normal" fill="#000" >(a)</text>
<text x="101.3" y="74.9" font-family='"Liberation Sans", sans-serif' font-size="28.5">Co<tspan font-size="20.5" dy="7.3">2</tspan><tspan dy="-7.3">Mn</tspan><tspan font-size="20.5" dy="7.3">1-x</tspan><tspan dy="-7.3">Cr</tspan><tspan font-size="20.5" dy="7.3">x</tspan><tspan dy="-7.3">Al</tspan></text>
<text x="96.00" y="215.90" font-size="27.5" text-anchor="start" font-family='"Liberation Sans", sans-serif' font-weight="normal" font-style="normal" fill="#000" >x = 0.2</text>
<text x="102.50" y="320.70" font-size="27.5" text-anchor="start" font-family='"Liberation Sans", sans-serif' font-weight="normal" font-style="normal" fill="#000" >x = 0.1</text>
<text x="101.00" y="433.50" font-size="27.5" text-anchor="start" font-family='"Liberation Sans", sans-serif' font-weight="normal" font-style="normal" fill="#000" >x = 0.05</text>
<text x="101.00" y="528.40" font-size="27.5" text-anchor="start" font-family='"Liberation Sans", sans-serif' font-weight="normal" font-style="normal" fill="#000" >x = 0</text>
<text transform="translate(206.1,228.0) rotate(-90)" font-size="26.5" font-weight="bold" font-family='"Liberation Sans", sans-serif' dy="9.3" textLength="61.9" lengthAdjust="spacingAndGlyphs">(200)</text>
<text transform="translate(282.1,135.9) rotate(-88.5)" font-size="26.5" font-weight="bold" font-family='"Liberation Sans", sans-serif' dy="9.3" textLength="60.8" lengthAdjust="spacingAndGlyphs">(220)</text>
<text transform="translate(321.3,233.0) rotate(-90)" font-size="26.5" font-weight="bold" font-family='"Liberation Sans", sans-serif' dy="9.3" textLength="60.4" lengthAdjust="spacingAndGlyphs">(222)</text>
<text transform="translate(371.1,220.5) rotate(-90)" font-size="26.5" font-weight="bold" font-family='"Liberation Sans", sans-serif' dy="9.3" textLength="60.7" lengthAdjust="spacingAndGlyphs">(400)</text>
<text transform="translate(413.4,235.0) rotate(-87.5)" font-size="26.5" font-weight="bold" font-family='"Liberation Sans", sans-serif' dy="9.3" textLength="54.6" lengthAdjust="spacingAndGlyphs">(420)</text>
<text transform="translate(461.9,212.3) rotate(-90)" font-size="26.5" font-weight="bold" font-family='"Liberation Sans", sans-serif' dy="9.3" textLength="60.7" lengthAdjust="spacingAndGlyphs">(422)</text>
<polyline points="368.2,90.8 368.5,95.2 368.9,94.2 369.3,81.2 369.7,82.8 370.1,81.1 370.4,98.0 370.8,107.7 371.2,90.7 371.6,71.3 371.9,96.9 372.3,84.5 372.7,90.3 373.1,84.2 373.5,82.4 373.8,88.7 374.2,91.4 374.6,83.7 375.0,84.1 375.3,93.6 375.7,78.8 376.1,74.0 376.5,88.3 376.9,80.3 377.2,71.0 377.6,79.3 378.0,81.9 378.4,76.5 378.7,74.2 379.1,85.7 379.5,92.2 379.9,83.7 380.2,79.9 380.6,88.4 381.0,90.9 381.4,83.3 381.8,89.6 382.1,93.4 382.5,83.5 382.9,79.5 383.3,88.2 383.6,87.5 384.0,93.9 384.4,76.0 384.8,80.7 385.2,79.4 385.5,72.7 385.9,77.5 386.3,89.7 386.7,80.2 387.0,96.1 387.4,91.9 387.8,90.5 388.2,88.8 388.6,93.0 388.9,60.0 389.3,90.4 389.7,88.8 390.1,72.6 390.4,88.5 390.8,84.0 391.2,91.7 391.6,82.6 391.9,85.8 392.3,88.5 392.7,79.4 393.1,90.4 393.5,85.2 393.8,68.1 394.2,82.1 394.6,94.3 395.0,90.8 395.3,85.0 395.7,91.2 396.1,96.1 396.5,100.2 396.9,75.1 397.2,93.6 397.6,90.6 398.0,86.5 398.4,79.8 398.7,96.9 399.1,78.2 399.5,92.0 399.9,97.6 400.3,76.0 400.6,85.8 401.0,78.4 401.4,90.2 401.8,99.8 402.1,103.8 402.5,75.4 402.9,84.5 403.3,94.3 403.7,101.0 404.0,92.4 404.4,83.8 404.8,91.7 405.2,89.5 405.5,88.2 405.9,84.3 406.3,92.9 406.7,92.4 407.0,89.5 407.4,88.7 407.8,80.8 408.2,87.0 408.6,99.8 408.9,89.4 409.3,80.2 409.7,101.1 410.1,95.2 410.4,107.2 410.8,91.9 411.2,88.1 411.6,80.9 412.0,101.8 412.3,111.3 412.7,86.0 413.1,87.4 413.5,96.8 413.8,86.3 414.2,90.6 414.6,90.1 415.0,94.3 415.4,101.2 415.7,93.3 416.1,100.1 416.5,90.2 416.9,96.0 417.2,77.6 417.6,82.9 418.0,99.8 418.4,89.6 418.7,98.5 419.1,98.3 419.5,104.3 419.9,100.6 420.3,102.3 420.6,93.9 421.0,89.7 421.4,89.5 421.8,91.5 422.1,86.8 422.5,89.3 422.9,94.8 423.3,97.5 423.7,93.2 424.0,81.5 424.4,95.5 424.8,97.8 425.2,104.4 425.5,100.7 425.9,91.7 426.3,91.2 426.7,111.9 427.1,102.6 427.4,110.8 427.8,113.1 428.2,92.9 428.6,100.3 428.9,101.0 429.3,101.9 429.7,101.9 430.1,99.4 430.5,99.4 430.8,86.9 431.2,97.1 431.6,92.8 432.0,99.5 432.3,95.2 432.7,103.4 433.1,105.1 433.5,101.4 433.8,101.5 434.2,100.0 434.6,96.1 435.0,82.5 435.4,85.7 435.7,102.7 436.1,100.0 436.5,104.4 436.9,90.2 437.2,106.9 437.6,94.7 438.0,95.0 438.4,99.2 438.8,96.6 439.1,103.1 439.5,96.7 439.9,93.1 440.3,94.9 440.6,99.6 441.0,101.9 441.4,92.9 441.8,101.8 442.2,90.2 442.5,115.4 442.9,90.7 443.3,105.9 443.7,106.5 444.0,91.6 444.4,104.9 444.8,110.2 445.2,106.4 445.5,105.0 445.9,110.3 446.3,134.9 446.7,105.9 447.1,102.6 447.4,108.4 447.8,96.7 448.2,109.8 448.6,100.2 448.9,96.0 449.3,107.0 449.7,117.1 450.1,111.7 450.5,100.8 450.8,110.0 451.2,101.5 451.6,104.1 452.0,105.8 452.3,87.9 452.7,106.8 453.1,97.8 453.5,100.4 453.9,94.7 454.2,94.5 454.6,98.9 455.0,112.3 455.4,118.7 455.7,106.2 456.1,114.7 456.5,104.6 456.9,92.4 457.3,108.0 457.6,110.3 458.0,103.9 458.4,109.5 458.8,111.7 459.1,101.0 459.5,96.5 459.9,106.1 460.3,106.3 460.6,105.3 461.0,130.1 461.4,121.1 461.8,105.1 462.2,113.6 462.5,115.5 462.9,113.9 463.3,116.5 463.7,105.8 464.0,114.3 464.4,124.1 464.8,115.0 465.2,104.4 465.6,113.7 465.9,118.7 466.3,112.1 466.7,105.2 467.1,121.4 467.4,87.4 467.8,113.5 468.2,109.7 468.6,100.9 469.0,119.1 469.3,112.7 469.7,101.4 470.1,114.8 470.5,107.1 470.8,96.2 471.2,105.3 471.6,112.6 472.0,115.5 472.3,112.0 472.7,111.2 473.1,114.5 473.5,136.0 473.9,120.0 474.2,112.4 474.6,113.5 475.0,115.5 475.4,103.6 475.7,106.3 476.1,123.2 476.5,114.3 476.9,109.8 477.3,114.5 477.6,108.4 478.0,114.2 478.4,107.2 478.8,114.4 479.1,100.6 479.5,122.5 479.9,108.7 480.3,100.8 480.7,111.1 481.0,110.1" fill="none" stroke="#b4b4b4" stroke-width="1.0"/>
<polyline points="368.2,82.6 368.8,83.5 369.5,92.6 370.2,95.6 370.8,77.2 371.5,100.1 372.2,94.6 372.8,90.3 373.5,87.5 374.2,99.9 374.8,85.8 375.5,82.5 376.2,86.2 376.9,77.2 377.5,88.3 378.2,84.8 378.9,87.5 379.5,87.7 380.2,79.2 380.9,93.5 381.5,79.5 382.2,91.0 382.9,76.1 383.5,86.1 384.2,80.8 384.9,86.0 385.5,81.9 386.2,72.7 386.9,79.1 387.5,86.3 388.2,89.6 388.9,77.1 389.5,73.2 390.2,80.7 390.9,84.7 391.5,82.2 392.2,81.2 392.9,91.1 393.5,91.9 394.2,90.5 394.9,80.7 395.6,87.0 396.2,85.6 396.9,78.4 397.6,92.5 398.2,87.9 398.9,84.7 399.6,96.4 400.2,92.7 400.9,93.4 401.6,95.7 402.2,93.0 402.9,81.4 403.6,86.8 404.2,95.4 404.9,85.0 405.6,90.1 406.2,92.4 406.9,98.9 407.6,98.3 408.2,96.1 408.9,89.8 409.6,96.6 410.2,94.5 410.9,90.6 411.6,100.0 412.2,95.0 412.9,87.7 413.6,100.1 414.2,91.2 414.9,96.5 415.6,84.0 416.3,93.3 416.9,87.9 417.6,88.0 418.3,82.6 418.9,107.1 419.6,97.1 420.3,96.1 420.9,101.6 421.6,94.4 422.3,98.4 422.9,87.4 423.6,71.6 424.3,93.6 424.9,99.3 425.6,97.6 426.3,88.4 426.9,85.8 427.6,91.1 428.3,101.8 428.9,100.1 429.6,100.2 430.3,85.9 430.9,66.7 431.6,94.7 432.3,96.7 432.9,95.3 433.6,101.3 434.3,98.3 435.0,92.4 435.6,94.5 436.3,100.9 437.0,100.7 437.6,100.0 438.3,114.3 439.0,99.3 439.6,101.8 440.3,95.3 441.0,99.4 441.6,104.9 442.3,105.4 443.0,101.2 443.6,104.8 444.3,102.9 445.0,91.5 445.6,83.4 446.3,117.1 447.0,108.5 447.6,103.4 448.3,93.5 449.0,96.5 449.6,112.5 450.3,87.9 451.0,102.9 451.6,110.2 452.3,106.1 453.0,110.0 453.6,104.9 454.3,120.3 455.0,100.0 455.7,98.2 456.3,108.2 457.0,115.4 457.7,106.7 458.3,113.5 459.0,104.3 459.7,100.5 460.3,116.3 461.0,117.5 461.7,117.4 462.3,105.8 463.0,101.6 463.7,101.7 464.3,107.5 465.0,112.5 465.7,112.2 466.3,100.7 467.0,110.7 467.7,109.8 468.3,110.4 469.0,109.8 469.7,108.9 470.3,113.9 471.0,111.2 471.7,112.0 472.3,106.6 473.0,113.3 473.7,110.4 474.4,98.6 475.0,114.3 475.7,110.0 476.4,117.3 477.0,110.9 477.7,111.5 478.4,113.5 479.0,112.3 479.7,109.9 480.4,101.9 481.0,123.9" fill="none" stroke="#5a5a5a" stroke-width="0.7"/>
<rect x="367.6" y="46.9" width="113.89999999999998" height="93.9" fill="none" stroke="#000" stroke-width="3.6"/>
<line x1="405.60" y1="139.00" x2="405.60" y2="136.30" stroke="#000" stroke-width="1.2" stroke-linecap="butt"/>
<text x="405.60" y="157.70" font-size="14.5" text-anchor="middle" font-family='"Liberation Serif", serif' font-weight="normal" font-style="normal" fill="#000" >26</text>
<line x1="443.60" y1="139.00" x2="443.60" y2="136.30" stroke="#000" stroke-width="1.2" stroke-linecap="butt"/>
<text x="443.60" y="157.70" font-size="14.5" text-anchor="middle" font-family='"Liberation Serif", serif' font-weight="normal" font-style="normal" fill="#000" >28</text>
<text x="426.00" y="75.80" font-size="24" text-anchor="start" font-family='"Liberation Serif", serif' font-weight="normal" font-style="normal" fill="#000" >x = 0</text>
<text x="583" y="24.7" font-family='"Liberation Sans", sans-serif' font-size="35" font-weight="bold" font-style="italic" textLength="206" lengthAdjust="spacingAndGlyphs">Pm-3m (221)</text>
<rect x="582.3" y="28.8" width="208.7" height="4.2" fill="#000"/>
<text x="850.10" y="79.30" font-size="33" text-anchor="start" font-family='"Liberation Serif", serif' font-weight="normal" font-style="normal" fill="#000" >(b)</text>
<polygon points="574.8,75.6 822.9,78.8 822.9,309.6 574.8,306.4" fill="none" stroke="#555" stroke-width="2.4"/>
<ellipse cx="576.2" cy="75.6" rx="22.5" ry="21.2" fill="url(#olB)"/>
<ellipse cx="700.2" cy="77.2" rx="22.5" ry="21.2" fill="url(#olB)"/>
<ellipse cx="824.3" cy="78.8" rx="22.5" ry="21.2" fill="url(#olB)"/>
<ellipse cx="576.2" cy="190.9" rx="22.5" ry="21.2" fill="url(#olB)"/>
<ellipse cx="700.2" cy="192.5" rx="22.5" ry="21.2" fill="url(#olB)"/>
<ellipse cx="824.3" cy="194.1" rx="22.5" ry="21.2" fill="url(#olB)"/>
<ellipse cx="576.2" cy="306.4" rx="22.5" ry="21.2" fill="url(#olB)"/>
<ellipse cx="700.2" cy="308.0" rx="22.5" ry="21.2" fill="url(#olB)"/>
<ellipse cx="824.3" cy="309.6" rx="22.5" ry="21.2" fill="url(#olB)"/>
<ellipse cx="627.2" cy="138.5" rx="20.9" ry="19.5" fill="url(#orB)"/>
<ellipse cx="751.1" cy="140.1" rx="20.9" ry="19.5" fill="url(#orB)"/>
<ellipse cx="627.2" cy="253.8" rx="20.9" ry="19.5" fill="url(#orB)"/>
<ellipse cx="751.1" cy="255.4" rx="20.9" ry="19.5" fill="url(#orB)"/>
<ellipse cx="552.4" cy="84.3" rx="24.1" ry="22.5" fill="url(#olM)"/>
<ellipse cx="676.4" cy="85.9" rx="24.1" ry="22.5" fill="url(#olM)"/>
<ellipse cx="800.5" cy="87.5" rx="24.1" ry="22.5" fill="url(#olM)"/>
<ellipse cx="552.4" cy="199.6" rx="24.1" ry="22.5" fill="url(#olM)"/>
<ellipse cx="676.4" cy="201.2" rx="24.1" ry="22.5" fill="url(#olM)"/>
<ellipse cx="800.5" cy="202.8" rx="24.1" ry="22.5" fill="url(#olM)"/>
<ellipse cx="552.4" cy="315.1" rx="24.1" ry="22.5" fill="url(#olM)"/>
<ellipse cx="676.4" cy="316.7" rx="24.1" ry="22.5" fill="url(#olM)"/>
<ellipse cx="800.5" cy="318.3" rx="24.1" ry="22.5" fill="url(#olM)"/>
<ellipse cx="602.4" cy="147.4" rx="21.3" ry="19.5" fill="url(#orF)"/>
<ellipse cx="726.3" cy="149.0" rx="21.3" ry="19.5" fill="url(#orF)"/>
<ellipse cx="602.4" cy="262.7" rx="21.3" ry="19.5" fill="url(#orF)"/>
<ellipse cx="726.3" cy="264.3" rx="21.3" ry="19.5" fill="url(#orF)"/>
<polygon points="529.0,93.4 777.1,96.6 777.1,327.4 529.0,324.2" fill="none" stroke="#111" stroke-width="2.7"/>
<ellipse cx="529.0" cy="93.4" rx="23.3" ry="21.4" fill="url(#olF)"/>
<ellipse cx="653.0" cy="95.0" rx="23.3" ry="21.4" fill="url(#olF)"/>
<ellipse cx="777.1" cy="96.6" rx="23.3" ry="21.4" fill="url(#olF)"/>
<ellipse cx="529.0" cy="208.7" rx="23.3" ry="21.4" fill="url(#olF)"/>
<ellipse cx="653.0" cy="210.3" rx="23.3" ry="21.4" fill="url(#olF)"/>
<ellipse cx="777.1" cy="211.9" rx="23.3" ry="21.4" fill="url(#olF)"/>
<ellipse cx="529.0" cy="324.2" rx="23.3" ry="21.4" fill="url(#olF)"/>
<ellipse cx="653.0" cy="325.8" rx="23.3" ry="21.4" fill="url(#olF)"/>
<ellipse cx="777.1" cy="327.4" rx="23.3" ry="21.4" fill="url(#olF)"/>
<ellipse cx="890.3" cy="191.6" rx="22.9" ry="21.7" fill="url(#orF)"/>
<text x="923.50" y="198.00" font-size="28" text-anchor="start" font-family='"Liberation Sans", sans-serif' font-weight="normal" font-style="normal" fill="#000" >Co</text>
<ellipse cx="887.0" cy="256.2" rx="22.7" ry="22.1" fill="url(#olF)"/>
<text x="918.00" y="263.80" font-size="28" text-anchor="start" font-family='"Liberation Sans", sans-serif' font-weight="normal" font-style="normal" fill="#000" >Mn/Al</text>
<rect x="503.40" y="355.40" width="397.30" height="233.20" stroke="#000" stroke-width="3.9" fill="none"/>
<line x1="542.90" y1="588.60" x2="542.90" y2="579.30" stroke="#000" stroke-width="3.3" stroke-linecap="butt"/>
<line x1="702.05" y1="588.60" x2="702.05" y2="579.30" stroke="#000" stroke-width="3.3" stroke-linecap="butt"/>
<line x1="861.20" y1="588.60" x2="861.20" y2="579.30" stroke="#000" stroke-width="3.3" stroke-linecap="butt"/>
<line x1="622.48" y1="588.60" x2="622.48" y2="583.70" stroke="#000" stroke-width="3.1" stroke-linecap="butt"/>
<line x1="781.62" y1="588.60" x2="781.62" y2="583.70" stroke="#000" stroke-width="3.1" stroke-linecap="butt"/>
<text x="542.90" y="624.40" font-size="32.5" text-anchor="middle" font-family='"Liberation Sans", sans-serif' font-weight="normal" font-style="normal" fill="#000" >0.0</text>
<text x="702.05" y="624.40" font-size="32.5" text-anchor="middle" font-family='"Liberation Sans", sans-serif' font-weight="normal" font-style="normal" fill="#000" >0.1</text>
<text x="861.20" y="624.40" font-size="32.5" text-anchor="middle" font-family='"Liberation Sans", sans-serif' font-weight="normal" font-style="normal" fill="#000" >0.2</text>
<line x1="900.70" y1="374.30" x2="891.20" y2="374.30" stroke="#000" stroke-width="3.4" stroke-linecap="butt"/>
<line x1="900.70" y1="471.75" x2="891.20" y2="471.75" stroke="#000" stroke-width="3.4" stroke-linecap="butt"/>
<line x1="900.70" y1="569.20" x2="891.20" y2="569.20" stroke="#000" stroke-width="3.4" stroke-linecap="butt"/>
<line x1="900.70" y1="423.02" x2="896.10" y2="423.02" stroke="#000" stroke-width="3.1" stroke-linecap="butt"/>
<line x1="900.70" y1="520.47" x2="896.10" y2="520.47" stroke="#000" stroke-width="3.1" stroke-linecap="butt"/>
<text x="910.50" y="383.10" font-size="26.5" text-anchor="start" font-family='"Liberation Sans", sans-serif' font-weight="normal" font-style="normal" fill="#000" >5.760</text>
<text x="910.50" y="480.55" font-size="26.5" text-anchor="start" font-family='"Liberation Sans", sans-serif' font-weight="normal" font-style="normal" fill="#000" >5.755</text>
<text x="910.50" y="578.00" font-size="26.5" text-anchor="start" font-family='"Liberation Sans", sans-serif' font-weight="normal" font-style="normal" fill="#000" >5.750</text>
<text x="709.60" y="658.80" font-size="38" text-anchor="middle" font-family='"Liberation Sans", sans-serif' font-weight="normal" font-style="normal" fill="#000" >x</text>
<text transform="translate(1017.4,487.6) rotate(-90)" font-size="35.3" text-anchor="middle" font-family='"Liberation Sans", sans-serif'>a (Å)</text>
<text x="824.60" y="401.50" font-size="40" text-anchor="start" font-family='"Liberation Serif", serif' font-weight="normal" font-style="normal" fill="#000" >(c)</text>
<line x1="555.75" y1="427.57" x2="572.15" y2="437.17" stroke="#000" stroke-width="3.8" stroke-linecap="butt"/>
<line x1="598.04" y1="452.32" x2="612.01" y2="460.49" stroke="#000" stroke-width="3.8" stroke-linecap="butt"/>
<line x1="637.76" y1="465.74" x2="656.72" y2="464.40" stroke="#000" stroke-width="3.8" stroke-linecap="butt"/>
<line x1="715.95" y1="466.70" x2="733.63" y2="473.68" stroke="#000" stroke-width="3.8" stroke-linecap="butt"/>
<line x1="761.54" y1="484.69" x2="779.21" y2="491.66" stroke="#000" stroke-width="3.8" stroke-linecap="butt"/>
<line x1="807.12" y1="502.67" x2="824.79" y2="509.64" stroke="#000" stroke-width="3.8" stroke-linecap="butt"/>
<line x1="542.80" y1="372.50" x2="542.80" y2="468.00" stroke="#000" stroke-width="3.8" stroke-linecap="butt"/>
<line x1="538.80" y1="372.50" x2="546.80" y2="372.50" stroke="#000" stroke-width="3.8" stroke-linecap="round"/>
<line x1="538.80" y1="468.00" x2="546.80" y2="468.00" stroke="#000" stroke-width="3.8" stroke-linecap="round"/>
<circle cx="542.8" cy="420.0" r="10.3" fill="#fff" stroke="#000" stroke-width="3.2"/>
<line x1="622.80" y1="418.00" x2="622.80" y2="514.80" stroke="#000" stroke-width="3.8" stroke-linecap="butt"/>
<line x1="618.80" y1="418.00" x2="626.80" y2="418.00" stroke="#000" stroke-width="3.8" stroke-linecap="round"/>
<line x1="618.80" y1="514.80" x2="626.80" y2="514.80" stroke="#000" stroke-width="3.8" stroke-linecap="round"/>
<circle cx="622.8" cy="466.8" r="10.3" fill="#fff" stroke="#000" stroke-width="3.2"/>
<line x1="702.00" y1="412.80" x2="702.00" y2="508.80" stroke="#000" stroke-width="3.8" stroke-linecap="butt"/>
<line x1="698.00" y1="412.80" x2="706.00" y2="412.80" stroke="#000" stroke-width="3.8" stroke-linecap="round"/>
<line x1="698.00" y1="508.80" x2="706.00" y2="508.80" stroke="#000" stroke-width="3.8" stroke-linecap="round"/>
<circle cx="702.0" cy="461.2" r="10.3" fill="#fff" stroke="#000" stroke-width="3.2"/>
<line x1="861.20" y1="476.00" x2="861.20" y2="571.20" stroke="#000" stroke-width="3.8" stroke-linecap="butt"/>
<line x1="857.20" y1="476.00" x2="865.20" y2="476.00" stroke="#000" stroke-width="3.8" stroke-linecap="round"/>
<line x1="857.20" y1="571.20" x2="865.20" y2="571.20" stroke="#000" stroke-width="3.8" stroke-linecap="round"/>
<circle cx="861.2" cy="524.0" r="10.3" fill="#fff" stroke="#000" stroke-width="3.2"/>
<rect x="93.20" y="695.10" width="400.10" height="298.90" stroke="#000" stroke-width="3.8" fill="none"/>
<line x1="143.20" y1="994.00" x2="143.20" y2="983.50" stroke="#000" stroke-width="3.6" stroke-linecap="butt"/>
<line x1="243.35" y1="994.00" x2="243.35" y2="983.50" stroke="#000" stroke-width="3.6" stroke-linecap="butt"/>
<line x1="343.50" y1="994.00" x2="343.50" y2="983.50" stroke="#000" stroke-width="3.6" stroke-linecap="butt"/>
<line x1="443.65" y1="994.00" x2="443.65" y2="983.50" stroke="#000" stroke-width="3.6" stroke-linecap="butt"/>
<line x1="193.27" y1="994.00" x2="193.27" y2="988.70" stroke="#000" stroke-width="3.6" stroke-linecap="butt"/>
<line x1="293.43" y1="994.00" x2="293.43" y2="988.70" stroke="#000" stroke-width="3.6" stroke-linecap="butt"/>
<line x1="393.58" y1="994.00" x2="393.58" y2="988.70" stroke="#000" stroke-width="3.6" stroke-linecap="butt"/>
<line x1="93.20" y1="966.80" x2="107.40" y2="966.80" stroke="#000" stroke-width="3.5" stroke-linecap="butt"/>
<line x1="93.20" y1="888.93" x2="107.40" y2="888.93" stroke="#000" stroke-width="3.5" stroke-linecap="butt"/>
<line x1="93.20" y1="811.07" x2="107.40" y2="811.07" stroke="#000" stroke-width="3.5" stroke-linecap="butt"/>
<line x1="93.20" y1="733.20" x2="107.40" y2="733.20" stroke="#000" stroke-width="3.5" stroke-linecap="butt"/>
<line x1="93.20" y1="927.87" x2="100.40" y2="927.87" stroke="#000" stroke-width="3.5" stroke-linecap="butt"/>
<line x1="93.20" y1="850.00" x2="100.40" y2="850.00" stroke="#000" stroke-width="3.5" stroke-linecap="butt"/>
<line x1="93.20" y1="772.13" x2="100.40" y2="772.13" stroke="#000" stroke-width="3.5" stroke-linecap="butt"/>
<text x="88.60" y="979.10" font-size="36" text-anchor="end" font-family='"Liberation Sans", sans-serif' font-weight="normal" font-style="normal" fill="#000" >0</text>
<text x="88.60" y="901.23" font-size="36" text-anchor="end" font-family='"Liberation Sans", sans-serif' font-weight="normal" font-style="normal" fill="#000" >20</text>
<text x="88.60" y="823.37" font-size="36" text-anchor="end" font-family='"Liberation Sans", sans-serif' font-weight="normal" font-style="normal" fill="#000" >40</text>
<text x="88.60" y="745.50" font-size="36" text-anchor="end" font-family='"Liberation Sans", sans-serif' font-weight="normal" font-style="normal" fill="#000" >60</text>
<text x="117.00" y="964.90" font-size="36" text-anchor="start" font-family='"Liberation Sans", sans-serif' font-weight="normal" font-style="normal" fill="#000" >(d)</text>
<text x="196.5" y="741.8" font-size="36" font-family='"Liberation Sans", sans-serif'>x = 0</text>
<line x1="154.45" y1="762.04" x2="232.10" y2="849.96" stroke="#000" stroke-width="3.6" stroke-linecap="round"/>
<line x1="255.15" y1="874.93" x2="331.70" y2="954.27" stroke="#000" stroke-width="3.6" stroke-linecap="round"/>
<line x1="357.81" y1="957.33" x2="429.34" y2="911.47" stroke="#000" stroke-width="3.6" stroke-linecap="round"/>
<circle cx="143.20" cy="749.30" r="10.6" fill="#fff" stroke="#000" stroke-width="1.9"/>
<line x1="143.20" y1="737.50" x2="143.20" y2="738.10" stroke="#000" stroke-width="3.0" stroke-linecap="round"/>
<line x1="143.20" y1="761.10" x2="143.20" y2="760.50" stroke="#000" stroke-width="3.0" stroke-linecap="round"/>
<line x1="134.80" y1="738.10" x2="151.60" y2="738.10" stroke="#000" stroke-width="3.4" stroke-linecap="round"/>
<line x1="134.80" y1="760.50" x2="151.60" y2="760.50" stroke="#000" stroke-width="3.4" stroke-linecap="round"/>
<circle cx="243.35" cy="862.70" r="10.6" fill="#fff" stroke="#000" stroke-width="1.9"/>
<line x1="243.35" y1="850.90" x2="243.35" y2="838.45" stroke="#000" stroke-width="3.0" stroke-linecap="round"/>
<line x1="243.35" y1="874.50" x2="243.35" y2="886.95" stroke="#000" stroke-width="3.0" stroke-linecap="round"/>
<line x1="234.95" y1="838.45" x2="251.75" y2="838.45" stroke="#000" stroke-width="3.4" stroke-linecap="round"/>
<line x1="234.95" y1="886.95" x2="251.75" y2="886.95" stroke="#000" stroke-width="3.4" stroke-linecap="round"/>
<circle cx="343.50" cy="966.50" r="10.6" fill="#fff" stroke="#000" stroke-width="1.9"/>
<circle cx="443.65" cy="902.30" r="10.6" fill="#fff" stroke="#000" stroke-width="1.9"/>
<line x1="443.65" y1="890.50" x2="443.65" y2="890.30" stroke="#000" stroke-width="3.0" stroke-linecap="round"/>
<line x1="443.65" y1="914.10" x2="443.65" y2="914.30" stroke="#000" stroke-width="3.0" stroke-linecap="round"/>
<line x1="435.25" y1="890.30" x2="452.05" y2="890.30" stroke="#000" stroke-width="3.4" stroke-linecap="round"/>
<line x1="435.25" y1="914.30" x2="452.05" y2="914.30" stroke="#000" stroke-width="3.4" stroke-linecap="round"/>
<line x1="154.00" y1="750.93" x2="232.55" y2="846.37" stroke="#ff0000" stroke-width="3.6" stroke-linecap="round"/>
<line x1="254.97" y1="871.91" x2="331.88" y2="954.09" stroke="#ff0000" stroke-width="3.6" stroke-linecap="round"/>
<line x1="358.58" y1="958.64" x2="428.57" y2="922.16" stroke="#ff0000" stroke-width="3.6" stroke-linecap="round"/>
<circle cx="143.20" cy="737.80" r="11.7" fill="#ff0000"/>
<circle cx="243.35" cy="859.50" r="11.7" fill="#ff0000"/>
<circle cx="343.50" cy="966.50" r="11.7" fill="#ff0000"/>
<circle cx="443.65" cy="914.30" r="11.7" fill="#ff0000"/>
<rect x="310.2" y="707.6" width="171.4" height="69" fill="#fff" stroke="#333" stroke-width="1.3"/>
<line x1="313.30" y1="726.10" x2="375.10" y2="726.10" stroke="#000" stroke-width="3.6" stroke-linecap="round"/>
<circle cx="344.1" cy="725.6" r="10.3" fill="#fff" stroke="#000" stroke-width="2.0"/>
<line x1="313.30" y1="758.40" x2="375.10" y2="758.40" stroke="#ff0000" stroke-width="3.6" stroke-linecap="round"/>
<circle cx="344.1" cy="758.6" r="11.6" fill="#ff0000"/>
<text x="387.50" y="734.90" font-size="26.5" text-anchor="start" font-family='"Liberation Sans", sans-serif' font-weight="normal" font-style="normal" fill="#000" >exp.</text>
<text x="387.50" y="767.30" font-size="26.5" text-anchor="start" font-family='"Liberation Sans", sans-serif' font-weight="normal" font-style="normal" fill="#000" >nominal</text>
<rect x="501.50" y="695.10" width="400.20" height="298.90" stroke="#000" stroke-width="3.8" fill="none"/>
<line x1="551.50" y1="994.00" x2="551.50" y2="983.50" stroke="#000" stroke-width="3.6" stroke-linecap="butt"/>
<line x1="651.65" y1="994.00" x2="651.65" y2="983.50" stroke="#000" stroke-width="3.6" stroke-linecap="butt"/>
<line x1="751.80" y1="994.00" x2="751.80" y2="983.50" stroke="#000" stroke-width="3.6" stroke-linecap="butt"/>
<line x1="851.95" y1="994.00" x2="851.95" y2="983.50" stroke="#000" stroke-width="3.6" stroke-linecap="butt"/>
<line x1="601.58" y1="994.00" x2="601.58" y2="988.70" stroke="#000" stroke-width="3.6" stroke-linecap="butt"/>
<line x1="701.72" y1="994.00" x2="701.72" y2="988.70" stroke="#000" stroke-width="3.6" stroke-linecap="butt"/>
<line x1="801.88" y1="994.00" x2="801.88" y2="988.70" stroke="#000" stroke-width="3.6" stroke-linecap="butt"/>
<line x1="901.70" y1="966.80" x2="890.00" y2="966.80" stroke="#000" stroke-width="3.5" stroke-linecap="butt"/>
<line x1="901.70" y1="888.93" x2="890.00" y2="888.93" stroke="#000" stroke-width="3.5" stroke-linecap="butt"/>
<line x1="901.70" y1="811.07" x2="890.00" y2="811.07" stroke="#000" stroke-width="3.5" stroke-linecap="butt"/>
<line x1="901.70" y1="733.20" x2="890.00" y2="733.20" stroke="#000" stroke-width="3.5" stroke-linecap="butt"/>
<line x1="901.70" y1="927.87" x2="895.80" y2="927.87" stroke="#000" stroke-width="3.5" stroke-linecap="butt"/>
<line x1="901.70" y1="850.00" x2="895.80" y2="850.00" stroke="#000" stroke-width="3.5" stroke-linecap="butt"/>
<line x1="901.70" y1="772.13" x2="895.80" y2="772.13" stroke="#000" stroke-width="3.5" stroke-linecap="butt"/>
<text x="908.60" y="979.10" font-size="36" text-anchor="start" font-family='"Liberation Sans", sans-serif' font-weight="normal" font-style="normal" fill="#000" >0</text>
<text x="908.60" y="901.23" font-size="36" text-anchor="start" font-family='"Liberation Sans", sans-serif' font-weight="normal" font-style="normal" fill="#000" >20</text>
<text x="908.60" y="823.37" font-size="36" text-anchor="start" font-family='"Liberation Sans", sans-serif' font-weight="normal" font-style="normal" fill="#000" >40</text>
<text x="908.60" y="745.50" font-size="36" text-anchor="start" font-family='"Liberation Sans", sans-serif' font-weight="normal" font-style="normal" fill="#000" >60</text>
<text x="524.00" y="962.50" font-size="36" text-anchor="start" font-family='"Liberation Sans", sans-serif' font-weight="normal" font-style="normal" fill="#000" >(e)</text>
<text x="870" y="741.8" text-anchor="end" font-size="36" font-family='"Liberation Sans", sans-serif'>x = 0.10</text>
<line x1="561.33" y1="748.87" x2="641.82" y2="862.43" stroke="#000" stroke-width="3.6" stroke-linecap="round"/>
<line x1="665.09" y1="886.70" x2="738.36" y2="943.40" stroke="#000" stroke-width="3.6" stroke-linecap="round"/>
<line x1="767.43" y1="947.12" x2="836.32" y2="917.68" stroke="#000" stroke-width="3.6" stroke-linecap="round"/>
<circle cx="551.50" cy="735.00" r="10.6" fill="#fff" stroke="#000" stroke-width="1.9"/>
<line x1="551.50" y1="723.20" x2="551.50" y2="731.50" stroke="#000" stroke-width="3.0" stroke-linecap="round"/>
<line x1="551.50" y1="746.80" x2="551.50" y2="738.50" stroke="#000" stroke-width="3.0" stroke-linecap="round"/>
<line x1="543.10" y1="731.50" x2="559.90" y2="731.50" stroke="#000" stroke-width="3.4" stroke-linecap="round"/>
<line x1="543.10" y1="738.50" x2="559.90" y2="738.50" stroke="#000" stroke-width="3.4" stroke-linecap="round"/>
<circle cx="651.65" cy="876.30" r="10.6" fill="#fff" stroke="#000" stroke-width="1.9"/>
<line x1="651.65" y1="864.50" x2="651.65" y2="865.70" stroke="#000" stroke-width="3.0" stroke-linecap="round"/>
<line x1="651.65" y1="888.10" x2="651.65" y2="886.90" stroke="#000" stroke-width="3.0" stroke-linecap="round"/>
<line x1="643.25" y1="865.70" x2="660.05" y2="865.70" stroke="#000" stroke-width="3.4" stroke-linecap="round"/>
<line x1="643.25" y1="886.90" x2="660.05" y2="886.90" stroke="#000" stroke-width="3.4" stroke-linecap="round"/>
<circle cx="751.80" cy="953.80" r="10.6" fill="#fff" stroke="#000" stroke-width="1.9"/>
<line x1="751.80" y1="942.00" x2="751.80" y2="950.80" stroke="#000" stroke-width="3.0" stroke-linecap="round"/>
<line x1="751.80" y1="965.60" x2="751.80" y2="956.80" stroke="#000" stroke-width="3.0" stroke-linecap="round"/>
<line x1="743.40" y1="950.80" x2="760.20" y2="950.80" stroke="#000" stroke-width="3.4" stroke-linecap="round"/>
<line x1="743.40" y1="956.80" x2="760.20" y2="956.80" stroke="#000" stroke-width="3.4" stroke-linecap="round"/>
<circle cx="851.95" cy="911.00" r="10.6" fill="#fff" stroke="#000" stroke-width="1.9"/>
<line x1="851.95" y1="899.20" x2="851.95" y2="907.50" stroke="#000" stroke-width="3.0" stroke-linecap="round"/>
<line x1="851.95" y1="922.80" x2="851.95" y2="914.50" stroke="#000" stroke-width="3.0" stroke-linecap="round"/>
<line x1="843.55" y1="907.50" x2="860.35" y2="907.50" stroke="#000" stroke-width="3.4" stroke-linecap="round"/>
<line x1="843.55" y1="914.50" x2="860.35" y2="914.50" stroke="#000" stroke-width="3.4" stroke-linecap="round"/>
<line x1="561.73" y1="750.88" x2="641.42" y2="856.62" stroke="#ff0000" stroke-width="3.6" stroke-linecap="round"/>
<line x1="664.59" y1="881.23" x2="738.86" y2="944.57" stroke="#ff0000" stroke-width="3.6" stroke-linecap="round"/>
<line x1="767.47" y1="949.00" x2="836.28" y2="920.00" stroke="#ff0000" stroke-width="3.6" stroke-linecap="round"/>
<circle cx="551.50" cy="737.30" r="11.7" fill="#ff0000"/>
<circle cx="651.65" cy="870.20" r="11.7" fill="#ff0000"/>
<circle cx="751.80" cy="955.60" r="11.7" fill="#ff0000"/>
<circle cx="851.95" cy="913.40" r="11.7" fill="#ff0000"/>
<rect x="93.20" y="1002.80" width="400.10" height="298.00" stroke="#000" stroke-width="3.8" fill="none"/>
<line x1="143.20" y1="1300.80" x2="143.20" y2="1290.30" stroke="#000" stroke-width="3.6" stroke-linecap="butt"/>
<line x1="243.35" y1="1300.80" x2="243.35" y2="1290.30" stroke="#000" stroke-width="3.6" stroke-linecap="butt"/>
<line x1="343.50" y1="1300.80" x2="343.50" y2="1290.30" stroke="#000" stroke-width="3.6" stroke-linecap="butt"/>
<line x1="443.65" y1="1300.80" x2="443.65" y2="1290.30" stroke="#000" stroke-width="3.6" stroke-linecap="butt"/>
<line x1="193.27" y1="1300.80" x2="193.27" y2="1295.50" stroke="#000" stroke-width="3.6" stroke-linecap="butt"/>
<line x1="293.43" y1="1300.80" x2="293.43" y2="1295.50" stroke="#000" stroke-width="3.6" stroke-linecap="butt"/>
<line x1="393.58" y1="1300.80" x2="393.58" y2="1295.50" stroke="#000" stroke-width="3.6" stroke-linecap="butt"/>
<line x1="93.20" y1="1274.80" x2="107.40" y2="1274.80" stroke="#000" stroke-width="3.5" stroke-linecap="butt"/>
<line x1="93.20" y1="1196.80" x2="107.40" y2="1196.80" stroke="#000" stroke-width="3.5" stroke-linecap="butt"/>
<line x1="93.20" y1="1118.80" x2="107.40" y2="1118.80" stroke="#000" stroke-width="3.5" stroke-linecap="butt"/>
<line x1="93.20" y1="1040.80" x2="107.40" y2="1040.80" stroke="#000" stroke-width="3.5" stroke-linecap="butt"/>
<line x1="93.20" y1="1235.80" x2="100.40" y2="1235.80" stroke="#000" stroke-width="3.5" stroke-linecap="butt"/>
<line x1="93.20" y1="1157.80" x2="100.40" y2="1157.80" stroke="#000" stroke-width="3.5" stroke-linecap="butt"/>
<line x1="93.20" y1="1079.80" x2="100.40" y2="1079.80" stroke="#000" stroke-width="3.5" stroke-linecap="butt"/>
<text x="88.60" y="1287.10" font-size="36" text-anchor="end" font-family='"Liberation Sans", sans-serif' font-weight="normal" font-style="normal" fill="#000" >0</text>
<text x="88.60" y="1209.10" font-size="36" text-anchor="end" font-family='"Liberation Sans", sans-serif' font-weight="normal" font-style="normal" fill="#000" >20</text>
<text x="88.60" y="1131.10" font-size="36" text-anchor="end" font-family='"Liberation Sans", sans-serif' font-weight="normal" font-style="normal" fill="#000" >40</text>
<text x="88.60" y="1053.10" font-size="36" text-anchor="end" font-family='"Liberation Sans", sans-serif' font-weight="normal" font-style="normal" fill="#000" >60</text>
<text x="126.00" y="1275.50" font-size="36" text-anchor="start" font-family='"Liberation Sans", sans-serif' font-weight="normal" font-style="normal" fill="#000" >(f)</text>
<text y="1052.5" font-size="36" font-family='"Liberation Sans", sans-serif'><tspan x="210.5">x</tspan><tspan x="247.0">=</tspan><tspan x="277.6">0.05</tspan></text>
<line x1="152.08" y1="1054.50" x2="234.47" y2="1189.10" stroke="#000" stroke-width="3.6" stroke-linecap="round"/>
<line x1="257.59" y1="1212.89" x2="329.26" y2="1259.61" stroke="#000" stroke-width="3.6" stroke-linecap="round"/>
<line x1="357.21" y1="1258.84" x2="429.94" y2="1205.46" stroke="#000" stroke-width="3.6" stroke-linecap="round"/>
<circle cx="143.20" cy="1040.00" r="10.6" fill="#fff" stroke="#000" stroke-width="1.9"/>
<line x1="143.20" y1="1028.20" x2="143.20" y2="1036.50" stroke="#000" stroke-width="3.0" stroke-linecap="round"/>
<line x1="143.20" y1="1051.80" x2="143.20" y2="1043.50" stroke="#000" stroke-width="3.0" stroke-linecap="round"/>
<line x1="134.80" y1="1036.50" x2="151.60" y2="1036.50" stroke="#000" stroke-width="3.4" stroke-linecap="round"/>
<line x1="134.80" y1="1043.50" x2="151.60" y2="1043.50" stroke="#000" stroke-width="3.4" stroke-linecap="round"/>
<circle cx="243.35" cy="1203.60" r="10.6" fill="#fff" stroke="#000" stroke-width="1.9"/>
<line x1="243.35" y1="1191.80" x2="243.35" y2="1200.10" stroke="#000" stroke-width="3.0" stroke-linecap="round"/>
<line x1="243.35" y1="1215.40" x2="243.35" y2="1207.10" stroke="#000" stroke-width="3.0" stroke-linecap="round"/>
<line x1="234.95" y1="1200.10" x2="251.75" y2="1200.10" stroke="#000" stroke-width="3.4" stroke-linecap="round"/>
<line x1="234.95" y1="1207.10" x2="251.75" y2="1207.10" stroke="#000" stroke-width="3.4" stroke-linecap="round"/>
<circle cx="343.50" cy="1268.90" r="10.6" fill="#fff" stroke="#000" stroke-width="1.9"/>
<line x1="343.50" y1="1257.10" x2="343.50" y2="1265.90" stroke="#000" stroke-width="3.0" stroke-linecap="round"/>
<line x1="343.50" y1="1280.70" x2="343.50" y2="1271.90" stroke="#000" stroke-width="3.0" stroke-linecap="round"/>
<line x1="335.10" y1="1265.90" x2="351.90" y2="1265.90" stroke="#000" stroke-width="3.4" stroke-linecap="round"/>
<line x1="335.10" y1="1271.90" x2="351.90" y2="1271.90" stroke="#000" stroke-width="3.4" stroke-linecap="round"/>
<circle cx="443.65" cy="1195.40" r="10.6" fill="#fff" stroke="#000" stroke-width="1.9"/>
<line x1="443.65" y1="1183.60" x2="443.65" y2="1190.20" stroke="#000" stroke-width="3.0" stroke-linecap="round"/>
<line x1="443.65" y1="1207.20" x2="443.65" y2="1200.60" stroke="#000" stroke-width="3.0" stroke-linecap="round"/>
<line x1="435.25" y1="1190.20" x2="452.05" y2="1190.20" stroke="#000" stroke-width="3.4" stroke-linecap="round"/>
<line x1="435.25" y1="1200.60" x2="452.05" y2="1200.60" stroke="#000" stroke-width="3.4" stroke-linecap="round"/>
<line x1="153.67" y1="1058.30" x2="232.88" y2="1159.70" stroke="#ff0000" stroke-width="3.6" stroke-linecap="round"/>
<line x1="255.63" y1="1184.86" x2="331.22" y2="1257.24" stroke="#ff0000" stroke-width="3.6" stroke-linecap="round"/>
<line x1="358.88" y1="1261.75" x2="428.27" y2="1229.05" stroke="#ff0000" stroke-width="3.6" stroke-linecap="round"/>
<circle cx="143.20" cy="1044.90" r="11.7" fill="#ff0000"/>
<circle cx="243.35" cy="1173.10" r="11.7" fill="#ff0000"/>
<circle cx="343.50" cy="1269.00" r="11.7" fill="#ff0000"/>
<circle cx="443.65" cy="1221.80" r="11.7" fill="#ff0000"/>
<rect x="501.50" y="1002.80" width="400.20" height="298.00" stroke="#000" stroke-width="3.8" fill="none"/>
<line x1="551.50" y1="1300.80" x2="551.50" y2="1290.30" stroke="#000" stroke-width="3.6" stroke-linecap="butt"/>
<line x1="651.65" y1="1300.80" x2="651.65" y2="1290.30" stroke="#000" stroke-width="3.6" stroke-linecap="butt"/>
<line x1="751.80" y1="1300.80" x2="751.80" y2="1290.30" stroke="#000" stroke-width="3.6" stroke-linecap="butt"/>
<line x1="851.95" y1="1300.80" x2="851.95" y2="1290.30" stroke="#000" stroke-width="3.6" stroke-linecap="butt"/>
<line x1="601.58" y1="1300.80" x2="601.58" y2="1295.50" stroke="#000" stroke-width="3.6" stroke-linecap="butt"/>
<line x1="701.72" y1="1300.80" x2="701.72" y2="1295.50" stroke="#000" stroke-width="3.6" stroke-linecap="butt"/>
<line x1="801.88" y1="1300.80" x2="801.88" y2="1295.50" stroke="#000" stroke-width="3.6" stroke-linecap="butt"/>
<line x1="901.70" y1="1274.40" x2="890.00" y2="1274.40" stroke="#000" stroke-width="3.5" stroke-linecap="butt"/>
<line x1="901.70" y1="1196.40" x2="890.00" y2="1196.40" stroke="#000" stroke-width="3.5" stroke-linecap="butt"/>
<line x1="901.70" y1="1118.40" x2="890.00" y2="1118.40" stroke="#000" stroke-width="3.5" stroke-linecap="butt"/>
<line x1="901.70" y1="1040.40" x2="890.00" y2="1040.40" stroke="#000" stroke-width="3.5" stroke-linecap="butt"/>
<line x1="901.70" y1="1235.40" x2="895.80" y2="1235.40" stroke="#000" stroke-width="3.5" stroke-linecap="butt"/>
<line x1="901.70" y1="1157.40" x2="895.80" y2="1157.40" stroke="#000" stroke-width="3.5" stroke-linecap="butt"/>
<line x1="901.70" y1="1079.40" x2="895.80" y2="1079.40" stroke="#000" stroke-width="3.5" stroke-linecap="butt"/>
<text x="908.60" y="1286.70" font-size="36" text-anchor="start" font-family='"Liberation Sans", sans-serif' font-weight="normal" font-style="normal" fill="#000" >0</text>
<text x="908.60" y="1208.70" font-size="36" text-anchor="start" font-family='"Liberation Sans", sans-serif' font-weight="normal" font-style="normal" fill="#000" >20</text>
<text x="908.60" y="1130.70" font-size="36" text-anchor="start" font-family='"Liberation Sans", sans-serif' font-weight="normal" font-style="normal" fill="#000" >40</text>
<text x="908.60" y="1052.70" font-size="36" text-anchor="start" font-family='"Liberation Sans", sans-serif' font-weight="normal" font-style="normal" fill="#000" >60</text>
<text x="536.00" y="1272.00" font-size="36" text-anchor="start" font-family='"Liberation Sans", sans-serif' font-weight="normal" font-style="normal" fill="#000" >(g)</text>
<text x="881.3" y="1059.1" text-anchor="end" font-size="36" font-family='"Liberation Sans", sans-serif'>x =0.20</text>
<line x1="560.16" y1="1055.73" x2="642.99" y2="1195.57" stroke="#000" stroke-width="3.6" stroke-linecap="round"/>
<line x1="667.20" y1="1217.06" x2="736.25" y2="1247.54" stroke="#000" stroke-width="3.6" stroke-linecap="round"/>
<line x1="766.73" y1="1246.27" x2="837.02" y2="1208.03" stroke="#000" stroke-width="3.6" stroke-linecap="round"/>
<circle cx="551.50" cy="1041.10" r="10.6" fill="#fff" stroke="#000" stroke-width="1.9"/>
<line x1="551.50" y1="1029.30" x2="551.50" y2="1037.60" stroke="#000" stroke-width="3.0" stroke-linecap="round"/>
<line x1="551.50" y1="1052.90" x2="551.50" y2="1044.60" stroke="#000" stroke-width="3.0" stroke-linecap="round"/>
<line x1="543.10" y1="1037.60" x2="559.90" y2="1037.60" stroke="#000" stroke-width="3.4" stroke-linecap="round"/>
<line x1="543.10" y1="1044.60" x2="559.90" y2="1044.60" stroke="#000" stroke-width="3.4" stroke-linecap="round"/>
<circle cx="651.65" cy="1210.20" r="10.6" fill="#fff" stroke="#000" stroke-width="1.9"/>
<line x1="651.65" y1="1198.40" x2="651.65" y2="1204.50" stroke="#000" stroke-width="3.0" stroke-linecap="round"/>
<line x1="651.65" y1="1222.00" x2="651.65" y2="1215.90" stroke="#000" stroke-width="3.0" stroke-linecap="round"/>
<line x1="643.25" y1="1204.50" x2="660.05" y2="1204.50" stroke="#000" stroke-width="3.4" stroke-linecap="round"/>
<line x1="643.25" y1="1215.90" x2="660.05" y2="1215.90" stroke="#000" stroke-width="3.4" stroke-linecap="round"/>
<circle cx="751.80" cy="1254.40" r="10.6" fill="#fff" stroke="#000" stroke-width="1.9"/>
<line x1="751.80" y1="1242.60" x2="751.80" y2="1251.40" stroke="#000" stroke-width="3.0" stroke-linecap="round"/>
<line x1="751.80" y1="1266.20" x2="751.80" y2="1257.40" stroke="#000" stroke-width="3.0" stroke-linecap="round"/>
<line x1="743.40" y1="1251.40" x2="760.20" y2="1251.40" stroke="#000" stroke-width="3.4" stroke-linecap="round"/>
<line x1="743.40" y1="1257.40" x2="760.20" y2="1257.40" stroke="#000" stroke-width="3.4" stroke-linecap="round"/>
<circle cx="851.95" cy="1199.90" r="10.6" fill="#fff" stroke="#000" stroke-width="1.9"/>
<line x1="851.95" y1="1188.10" x2="851.95" y2="1194.40" stroke="#000" stroke-width="3.0" stroke-linecap="round"/>
<line x1="851.95" y1="1211.70" x2="851.95" y2="1205.40" stroke="#000" stroke-width="3.0" stroke-linecap="round"/>
<line x1="843.55" y1="1194.40" x2="860.35" y2="1194.40" stroke="#000" stroke-width="3.4" stroke-linecap="round"/>
<line x1="843.55" y1="1205.40" x2="860.35" y2="1205.40" stroke="#000" stroke-width="3.4" stroke-linecap="round"/>
<line x1="561.21" y1="1057.66" x2="641.94" y2="1173.74" stroke="#ff0000" stroke-width="3.6" stroke-linecap="round"/>
<line x1="665.97" y1="1196.86" x2="737.48" y2="1242.64" stroke="#ff0000" stroke-width="3.6" stroke-linecap="round"/>
<line x1="768.04" y1="1246.79" x2="835.71" y2="1225.91" stroke="#ff0000" stroke-width="3.6" stroke-linecap="round"/>
<circle cx="551.50" cy="1043.70" r="11.7" fill="#ff0000"/>
<circle cx="651.65" cy="1187.70" r="11.7" fill="#ff0000"/>
<circle cx="751.80" cy="1251.80" r="11.7" fill="#ff0000"/>
<circle cx="851.95" cy="1220.90" r="11.7" fill="#ff0000"/>
<text x="143.20" y="1340.80" font-size="36" text-anchor="middle" font-family='"Liberation Sans", sans-serif' font-weight="normal" font-style="normal" fill="#000" >Co</text>
<text x="243.35" y="1340.80" font-size="36" text-anchor="middle" font-family='"Liberation Sans", sans-serif' font-weight="normal" font-style="normal" fill="#000" >Mn</text>
<text x="343.50" y="1340.80" font-size="36" text-anchor="middle" font-family='"Liberation Sans", sans-serif' font-weight="normal" font-style="normal" fill="#000" >Cr</text>
<text x="443.65" y="1340.80" font-size="36" text-anchor="middle" font-family='"Liberation Sans", sans-serif' font-weight="normal" font-style="normal" fill="#000" >Al</text>
<text x="551.50" y="1340.80" font-size="36" text-anchor="middle" font-family='"Liberation Sans", sans-serif' font-weight="normal" font-style="normal" fill="#000" >Co</text>
<text x="651.65" y="1340.80" font-size="36" text-anchor="middle" font-family='"Liberation Sans", sans-serif' font-weight="normal" font-style="normal" fill="#000" >Mn</text>
<text x="751.80" y="1340.80" font-size="36" text-anchor="middle" font-family='"Liberation Sans", sans-serif' font-weight="normal" font-style="normal" fill="#000" >Cr</text>
<text x="851.95" y="1340.80" font-size="36" text-anchor="middle" font-family='"Liberation Sans", sans-serif' font-weight="normal" font-style="normal" fill="#000" >Al</text>
<text x="490.20" y="1388.50" font-size="36" text-anchor="middle" font-family='"Liberation Sans", sans-serif' font-weight="normal" font-style="normal" fill="#000" >Elements</text>
<text transform="translate(33.3,961.7) rotate(-90)" font-size="45" text-anchor="middle" font-family='"Liberation Sans", sans-serif'>weight %</text>
<text transform="translate(1010.6,996.1) rotate(-90)" font-size="45" text-anchor="middle" font-family='"Liberation Sans", sans-serif'>weight %</text>
</svg></body></html>
